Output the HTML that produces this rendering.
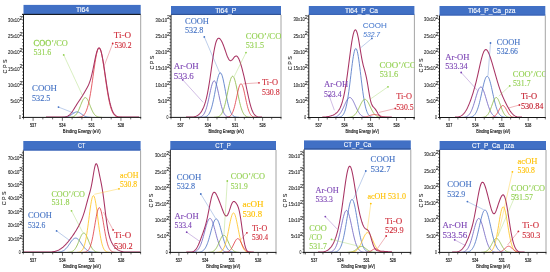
<!DOCTYPE html><html><head><meta charset="utf-8"><style>html,body{margin:0;padding:0;background:#fff;}svg{display:block;}.tt{font-family:"Liberation Sans",Arial,sans-serif;font-size:7px;fill:#fff;stroke:#fff;stroke-width:0.12px;}.an{font-family:"Liberation Serif","Times New Roman",serif;font-size:8.8px;stroke-width:0.12px;}.as{font-family:"Liberation Sans",Arial,sans-serif;font-size:8px;stroke-width:0.1px;}.tk{font-family:"Liberation Sans",Arial,sans-serif;font-size:5px;fill:#2a2a2a;stroke:#2a2a2a;stroke-width:0.22px;}.yl{font-family:"Liberation Sans",Arial,sans-serif;font-size:5.4px;fill:#2a2a2a;stroke:#2a2a2a;stroke-width:0.12px;}.bx{font-family:"Liberation Sans",Arial,sans-serif;font-size:5px;fill:#2a2a2a;stroke:#2a2a2a;stroke-width:0.2px;}</style></head><body>
<svg width="550" height="272" viewBox="0 0 550 272">
<rect width="550" height="272" fill="#fff"/>
<clipPath id="cTi64"><rect x="23.5" y="14.9" width="117.2" height="102.5"/></clipPath>
<clipPath id="LcTi64"><rect x="-6.5" y="9.9" width="147.2" height="112.5"/></clipPath>
<rect x="23.5" y="4.9" width="117.2" height="10" fill="#4170c5"/>
<rect x="22" y="13.85" width="118.7" height="1.05" fill="#111"/>
<text class="tt" x="76.1" y="12.3" textLength="13" lengthAdjust="spacingAndGlyphs">Ti64</text>
<line x1="140.7" y1="14.9" x2="140.7" y2="117.4" stroke="#9a9a9a" stroke-width="0.9"/>
<g clip-path="url(#cTi64)" fill="none" stroke-linejoin="round">
<path d="M62.5,117.36 L63,117.34 L63.5,117.32 L64,117.29 L64.5,117.25 L65,117.21 L65.5,117.14 L66,117.07 L66.5,116.97 L67,116.86 L67.5,116.72 L68,116.55 L68.5,116.36 L69,116.14 L69.5,115.89 L70,115.61 L70.5,115.31 L71,114.98 L71.5,114.64 L72,114.28 L72.5,113.92 L73,113.56 L73.5,113.21 L74,112.89 L74.5,112.6 L75,112.35 L75.5,112.15 L76,112 L76.5,111.92 L77,111.9 L77.5,111.95 L78,112.06 L78.5,112.22 L79,112.44 L79.5,112.71 L80,113.02 L80.5,113.35 L81,113.7 L81.5,114.06 L82,114.43 L82.5,114.78 L83,115.12 L83.5,115.44 L84,115.73 L84.5,116 L85,116.23 L85.5,116.44 L86,116.62 L86.5,116.78 L87,116.91 L87.5,117.01 L88,117.1 L88.5,117.17 L89,117.23 L89.5,117.27 L90,117.3 L90.5,117.33 L91,117.35 L91.5,117.36" stroke="#5277c6" stroke-width="0.85"/>
<path d="M69,117.35 L69.5,117.33 L70,117.3 L70.5,117.26 L71,117.21 L71.5,117.13 L72,117.04 L72.5,116.91 L73,116.76 L73.5,116.55 L74,116.3 L74.5,115.99 L75,115.61 L75.5,115.15 L76,114.6 L76.5,113.97 L77,113.24 L77.5,112.4 L78,111.47 L78.5,110.45 L79,109.34 L79.5,108.15 L80,106.92 L80.5,105.65 L81,104.37 L81.5,103.12 L82,101.93 L82.5,100.82 L83,99.83 L83.5,99 L84,98.34 L84.5,97.88 L85,97.64 L85.5,97.62 L86,97.82 L86.5,98.23 L87,98.85 L87.5,99.65 L88,100.61 L88.5,101.7 L89,102.88 L89.5,104.12 L90,105.39 L90.5,106.66 L91,107.91 L91.5,109.11 L92,110.23 L92.5,111.28 L93,112.23 L93.5,113.08 L94,113.83 L94.5,114.48 L95,115.05 L95.5,115.52 L96,115.92 L96.5,116.24 L97,116.51 L97.5,116.72 L98,116.89 L98.5,117.02 L99,117.12 L99.5,117.19 L100,117.25 L100.5,117.29 L101,117.33 L101.5,117.35 L102,117.36" stroke="#8fbb4a" stroke-width="0.85"/>
<path d="M76.5,117.35 L77,117.34 L77.5,117.31 L78,117.28 L78.5,117.24 L79,117.19 L79.5,117.12 L80,117.03 L80.5,116.92 L81,116.77 L81.5,116.59 L82,116.36 L82.5,116.07 L83,115.72 L83.5,115.29 L84,114.77 L84.5,114.15 L85,113.4 L85.5,112.52 L86,111.49 L86.5,110.29 L87,108.91 L87.5,107.34 L88,105.56 L88.5,103.56 L89,101.34 L89.5,98.9 L90,96.25 L90.5,93.38 L91,90.32 L91.5,87.08 L92,83.71 L92.5,80.22 L93,76.67 L93.5,73.1 L94,69.57 L94.5,66.12 L95,62.81 L95.5,59.7 L96,56.86 L96.5,54.33 L97,52.17 L97.5,50.41 L98,49.1 L98.5,48.26 L99,47.91 L99.5,48.06 L100,48.7 L100.5,49.83 L101,51.41 L101.5,53.42 L102,55.81 L102.5,58.53 L103,61.54 L103.5,64.77 L104,68.17 L104.5,71.68 L105,75.25 L105.5,78.81 L106,82.33 L106.5,85.75 L107,89.04 L107.5,92.18 L108,95.12 L108.5,97.87 L109,100.39 L109.5,102.7 L110,104.79 L110.5,106.65 L111,108.31 L111.5,109.76 L112,111.03 L112.5,112.13 L113,113.07 L113.5,113.86 L114,114.54 L114.5,115.1 L115,115.56 L115.5,115.94 L116,116.25 L116.5,116.5 L117,116.7 L117.5,116.86 L118,116.99 L118.5,117.09 L119,117.16 L119.5,117.22 L120,117.27 L120.5,117.3 L121,117.33 L121.5,117.35 L122,117.36" stroke="#e0414a" stroke-width="0.85"/>
<path d="M46,117 L46.5,117 L47,117 L47.5,117 L48,117 L48.5,117 L49,117 L49.5,117 L50,117 L50.5,117 L51,117 L51.5,117 L52,117 L52.5,117 L53,117 L53.5,117 L54,117 L54.5,117 L55,117 L55.5,117 L56,117 L56.5,117 L57,117 L57.5,117 L58,117 L58.5,117 L59,117 L59.5,117 L60,117 L60.5,117 L61,117 L61.5,117 L62,117 L62.5,117 L63,117 L63.5,117 L64,117 L64.5,117 L65,116.99 L65.5,116.88 L66,116.74 L66.5,116.58 L67,116.38 L67.5,116.15 L68,115.88 L68.5,115.56 L69,115.2 L69.5,114.79 L70,114.33 L70.5,113.81 L71,113.24 L71.5,112.63 L72,111.97 L72.5,111.26 L73,110.52 L73.5,109.74 L74,108.95 L74.5,108.13 L75,107.31 L75.5,106.49 L76,105.67 L76.5,104.87 L77,104.08 L77.5,103.3 L78,102.54 L78.5,101.79 L79,101.05 L79.5,100.31 L80,99.58 L80.5,98.83 L81,98.07 L81.5,97.29 L82,96.5 L82.5,95.68 L83,94.85 L83.5,94 L84,93.14 L84.5,92.28 L85,91.41 L85.5,90.54 L86,89.67 L86.5,88.79 L87,87.89 L87.5,86.96 L88,85.98 L88.5,84.93 L89,83.79 L89.5,82.52 L90,81.12 L90.5,79.57 L91,77.84 L91.5,75.95 L92,73.89 L92.5,71.68 L93,69.35 L93.5,66.91 L94,64.42 L94.5,61.92 L95,59.47 L95.5,57.12 L96,54.92 L96.5,52.94 L97,51.23 L97.5,49.83 L98,48.79 L98.5,48.14 L99,47.9 L99.5,48.09 L100,48.72 L100.5,49.77 L101,51.23 L101.5,53.08 L102,55.29 L102.5,57.81 L103,60.6 L103.5,63.62 L104,66.82 L104.5,70.13 L105,73.52 L105.5,76.94 L106,80.34 L106.5,83.68 L107,86.91 L107.5,90.02 L108,92.98 L108.5,95.76 L109,98.35 L109.5,100.74 L110,102.93 L110.5,104.91 L111,106.69 L111.5,108.28 L112,109.69 L112.5,110.92 L113,111.99 L113.5,112.91 L114,113.7 L114.5,114.37 L115,114.94 L115.5,115.41 L116,115.81 L116.5,116.13 L117,116.39 L117.5,116.61 L118,116.78 L118.5,116.92 L119,117 L119.5,117 L120,117 L120.5,117 L121,117 L121.5,117 L122,117 L122.5,117 L123,117 L123.5,117 L124,117 L124.5,117 L125,117 L125.5,117 L126,117 L126.5,117 L127,117 L127.5,117 L128,117 L128.5,117 L129,117 L129.5,117 L130,117 L130.5,117 L131,117 L131.5,117 L132,117 L132.5,117 L133,117 L133.5,117 L134,117 L134.5,117 L135,117 L135.5,117 L136,117 L136.5,117 L137,117 L137.5,117 L138,117 L138.5,117 L139,117" stroke="#a83363" stroke-width="1.05"/>
</g>
<line x1="63.7" y1="54.9" x2="82.5" y2="95.5" stroke="#92d050" stroke-width="0.5" opacity="0.7"/>
<circle cx="63.7" cy="54.9" r="0.9" fill="#92d050"/>
<line x1="112.7" y1="43.5" x2="104.3" y2="65.5" stroke="#cf2b38" stroke-width="0.5" opacity="0.7"/>
<circle cx="112.7" cy="43.5" r="0.9" fill="#cf2b38"/>
<line x1="58.5" y1="107.1" x2="74.5" y2="113.3" stroke="#4472c4" stroke-width="0.5" opacity="0.7"/>
<circle cx="58.5" cy="107.1" r="0.9" fill="#4472c4"/>
<text clip-path="url(#LcTi64)" class="an" x="33.6" y="46" fill="#92d050" stroke="#92d050" textLength="34.2" lengthAdjust="spacingAndGlyphs"><tspan stroke="#92d050" stroke-width="0.3">COO</tspan><tspan>’</tspan><tspan>/CO</tspan></text>
<text clip-path="url(#LcTi64)" class="an" x="33.6" y="55.2" fill="#92d050" stroke="#92d050" textLength="17.6" lengthAdjust="spacingAndGlyphs"><tspan>531.6</tspan></text>
<text clip-path="url(#LcTi64)" class="an" x="113.7" y="38.1" fill="#cf2b38" stroke="#cf2b38" textLength="17.4" lengthAdjust="spacingAndGlyphs"><tspan>Ti-O</tspan></text>
<text clip-path="url(#LcTi64)" class="an" x="114.4" y="47.7" fill="#cf2b38" stroke="#cf2b38" textLength="17.2" lengthAdjust="spacingAndGlyphs"><tspan>530.2</tspan></text>
<text clip-path="url(#LcTi64)" class="an" x="32" y="91.2" fill="#4472c4" stroke="#4472c4" textLength="25" lengthAdjust="spacingAndGlyphs"><tspan>COOH</tspan></text>
<text clip-path="url(#LcTi64)" class="an" x="32" y="100.8" fill="#4472c4" stroke="#4472c4" textLength="18.4" lengthAdjust="spacingAndGlyphs"><tspan>532.5</tspan></text>
<line x1="23.5" y1="14.9" x2="23.5" y2="117.9" stroke="#151515" stroke-width="1"/>
<line x1="22.2" y1="117.4" x2="141.15" y2="117.4" stroke="#151515" stroke-width="1"/>
<path d="M23.5,117.4h-1.4M23.5,114.15h-1.4M23.5,110.9h-1.4M23.5,107.65h-1.4M23.5,104.4h-1.4M23.5,101.15h-1.4M23.5,97.9h-1.4M23.5,94.65h-1.4M23.5,91.4h-1.4M23.5,88.15h-1.4M23.5,84.9h-1.4M23.5,81.65h-1.4M23.5,78.4h-1.4M23.5,75.15h-1.4M23.5,71.9h-1.4M23.5,68.65h-1.4M23.5,65.4h-1.4M23.5,62.15h-1.4M23.5,58.9h-1.4M23.5,55.65h-1.4M23.5,52.4h-1.4M23.5,49.15h-1.4M23.5,45.9h-1.4M23.5,42.65h-1.4M23.5,39.4h-1.4M23.5,36.15h-1.4M23.5,32.9h-1.4M23.5,29.65h-1.4M23.5,26.4h-1.4M23.5,23.15h-1.4M23.5,19.9h-1.4M23.5,16.65h-1.4" stroke="#222" stroke-width="0.65" fill="none"/>
<text class="yl" x="20.9" y="119.3" text-anchor="end" textLength="1.9" lengthAdjust="spacingAndGlyphs">0</text>
<text class="yl" x="10.38" y="103.05" textLength="9.12" lengthAdjust="spacingAndGlyphs">5x10</text>
<text class="yl" x="19.55" y="100.85" font-size="3.4">2</text>
<text class="yl" x="8.1" y="86.8" textLength="11.4" lengthAdjust="spacingAndGlyphs">10x10</text>
<text class="yl" x="19.55" y="84.6" font-size="3.4">2</text>
<text class="yl" x="8.1" y="70.55" textLength="11.4" lengthAdjust="spacingAndGlyphs">15x10</text>
<text class="yl" x="19.55" y="68.35" font-size="3.4">2</text>
<text class="yl" x="8.1" y="54.3" textLength="11.4" lengthAdjust="spacingAndGlyphs">20x10</text>
<text class="yl" x="19.55" y="52.1" font-size="3.4">2</text>
<text class="yl" x="8.1" y="38.05" textLength="11.4" lengthAdjust="spacingAndGlyphs">25x10</text>
<text class="yl" x="19.55" y="35.85" font-size="3.4">2</text>
<text class="yl" x="8.1" y="21.8" textLength="11.4" lengthAdjust="spacingAndGlyphs">30x10</text>
<text class="yl" x="19.55" y="19.6" font-size="3.4">2</text>
<text class="yl" transform="translate(6.6,66.5) rotate(-90)" text-anchor="middle" font-size="4.2">C P S</text>
<path d="M33.1,117.4v3.4M42.86,117.4v2.0M52.62,117.4v2.0M62.38,117.4v3.4M72.14,117.4v2.0M81.9,117.4v2.0M91.66,117.4v3.4M101.42,117.4v2.0M111.18,117.4v2.0M120.94,117.4v3.4M130.7,117.4v2.0M23.5,117.4v1.9M140.7,117.4v1.9" stroke="#222" stroke-width="0.65" fill="none"/>
<text class="tk" x="33.1" y="126.8" text-anchor="middle" textLength="6.2" lengthAdjust="spacingAndGlyphs">537</text>
<text class="tk" x="62.38" y="126.8" text-anchor="middle" textLength="6.2" lengthAdjust="spacingAndGlyphs">534</text>
<text class="tk" x="91.66" y="126.8" text-anchor="middle" textLength="6.2" lengthAdjust="spacingAndGlyphs">531</text>
<text class="tk" x="120.94" y="126.8" text-anchor="middle" textLength="6.2" lengthAdjust="spacingAndGlyphs">528</text>
<text class="bx" x="81.72" y="132.6" text-anchor="middle" textLength="37.77" lengthAdjust="spacingAndGlyphs">Binding Energy (eV)</text>
<clipPath id="cTi64_P"><rect x="171" y="14.9" width="110" height="102.5"/></clipPath>
<clipPath id="LcTi64_P"><rect x="141" y="9.9" width="140" height="112.5"/></clipPath>
<rect x="171" y="6" width="110" height="8.9" fill="#4170c5"/>
<rect x="171" y="13.85" width="110" height="1.05" fill="#2d4f92"/>
<text class="tt" x="215.25" y="13.1" textLength="20.9" lengthAdjust="spacingAndGlyphs">Ti64_P</text>
<line x1="281" y1="14.9" x2="281" y2="117.4" stroke="#9a9a9a" stroke-width="0.9"/>
<g clip-path="url(#cTi64_P)" fill="none" stroke-linejoin="round">
<path d="M197,117.35 L197.5,117.33 L198,117.3 L198.5,117.26 L199,117.2 L199.5,117.13 L200,117.02 L200.5,116.88 L201,116.69 L201.5,116.45 L202,116.14 L202.5,115.75 L203,115.26 L203.5,114.66 L204,113.93 L204.5,113.05 L205,112.01 L205.5,110.8 L206,109.41 L206.5,107.84 L207,106.08 L207.5,104.15 L208,102.07 L208.5,99.86 L209,97.55 L209.5,95.2 L210,92.85 L210.5,90.55 L211,88.37 L211.5,86.37 L212,84.6 L212.5,83.12 L213,81.97 L213.5,81.2 L214,80.83 L214.5,80.87 L215,81.33 L215.5,82.17 L216,83.39 L216.5,84.93 L217,86.75 L217.5,88.8 L218,91 L218.5,93.32 L219,95.67 L219.5,98.02 L220,100.31 L220.5,102.5 L221,104.55 L221.5,106.44 L222,108.17 L222.5,109.7 L223,111.06 L223.5,112.23 L224,113.24 L224.5,114.08 L225,114.79 L225.5,115.37 L226,115.83 L226.5,116.21 L227,116.5 L227.5,116.73 L228,116.91 L228.5,117.04 L229,117.14 L229.5,117.22 L230,117.27 L230.5,117.31 L231,117.34 L231.5,117.36" stroke="#7266c2" stroke-width="0.85"/>
<path d="M201.5,117.36 L202,117.34 L202.5,117.32 L203,117.29 L203.5,117.24 L204,117.18 L204.5,117.1 L205,116.99 L205.5,116.84 L206,116.65 L206.5,116.41 L207,116.1 L207.5,115.72 L208,115.24 L208.5,114.65 L209,113.93 L209.5,113.07 L210,112.06 L210.5,110.87 L211,109.49 L211.5,107.92 L212,106.15 L212.5,104.19 L213,102.04 L213.5,99.71 L214,97.24 L214.5,94.64 L215,91.97 L215.5,89.27 L216,86.59 L216.5,83.99 L217,81.53 L217.5,79.27 L218,77.28 L218.5,75.6 L219,74.28 L219.5,73.37 L220,72.88 L220.5,72.84 L221,73.23 L221.5,74.07 L222,75.3 L222.5,76.91 L223,78.85 L223.5,81.06 L224,83.48 L224.5,86.06 L225,88.73 L225.5,91.43 L226,94.11 L226.5,96.72 L227,99.23 L227.5,101.59 L228,103.77 L228.5,105.78 L229,107.58 L229.5,109.19 L230,110.61 L230.5,111.83 L231,112.88 L231.5,113.77 L232,114.51 L232.5,115.13 L233,115.63 L233.5,116.03 L234,116.36 L234.5,116.61 L235,116.81 L235.5,116.96 L236,117.08 L236.5,117.17 L237,117.23 L237.5,117.28 L238,117.32 L238.5,117.34 L239,117.36" stroke="#5277c6" stroke-width="0.85"/>
<path d="M214,117.36 L214.5,117.34 L215,117.32 L215.5,117.28 L216,117.23 L216.5,117.17 L217,117.08 L217.5,116.97 L218,116.82 L218.5,116.63 L219,116.38 L219.5,116.07 L220,115.68 L220.5,115.2 L221,114.61 L221.5,113.89 L222,113.05 L222.5,112.04 L223,110.88 L223.5,109.54 L224,108.01 L224.5,106.31 L225,104.42 L225.5,102.37 L226,100.16 L226.5,97.83 L227,95.4 L227.5,92.91 L228,90.42 L228.5,87.96 L229,85.61 L229.5,83.4 L230,81.41 L230.5,79.68 L231,78.26 L231.5,77.19 L232,76.5 L232.5,76.21 L233,76.33 L233.5,76.86 L234,77.78 L234.5,79.07 L235,80.68 L235.5,82.58 L236,84.7 L236.5,87.01 L237,89.43 L237.5,91.91 L238,94.41 L238.5,96.86 L239,99.24 L239.5,101.5 L240,103.62 L240.5,105.57 L241,107.35 L241.5,108.95 L242,110.36 L242.5,111.6 L243,112.66 L243.5,113.57 L244,114.34 L244.5,114.97 L245,115.5 L245.5,115.92 L246,116.26 L246.5,116.54 L247,116.75 L247.5,116.91 L248,117.04 L248.5,117.14 L249,117.21 L249.5,117.26 L250,117.3 L250.5,117.33 L251,117.35" stroke="#8fbb4a" stroke-width="0.85"/>
<path d="M225,117.37 L225.5,117.35 L226,117.32 L226.5,117.29 L227,117.23 L227.5,117.16 L228,117.05 L228.5,116.91 L229,116.71 L229.5,116.46 L230,116.12 L230.5,115.69 L231,115.14 L231.5,114.46 L232,113.63 L232.5,112.62 L233,111.43 L233.5,110.04 L234,108.44 L234.5,106.65 L235,104.67 L235.5,102.53 L236,100.26 L236.5,97.91 L237,95.54 L237.5,93.2 L238,90.98 L238.5,88.94 L239,87.15 L239.5,85.69 L240,84.6 L240.5,83.93 L241,83.7 L241.5,83.93 L242,84.6 L242.5,85.69 L243,87.15 L243.5,88.94 L244,90.98 L244.5,93.2 L245,95.54 L245.5,97.91 L246,100.26 L246.5,102.53 L247,104.67 L247.5,106.65 L248,108.44 L248.5,110.04 L249,111.43 L249.5,112.62 L250,113.63 L250.5,114.46 L251,115.14 L251.5,115.69 L252,116.12 L252.5,116.46 L253,116.71 L253.5,116.91 L254,117.05 L254.5,117.16 L255,117.23 L255.5,117.29 L256,117.32 L256.5,117.35 L257,117.37" stroke="#e0414a" stroke-width="0.85"/>
<path d="M186,117 L186.5,117 L187,117 L187.5,117 L188,117 L188.5,117 L189,117 L189.5,117 L190,117 L190.5,117 L191,117 L191.5,117 L192,117 L192.5,117 L193,116.98 L193.5,116.9 L194,116.8 L194.5,116.68 L195,116.54 L195.5,116.38 L196,116.2 L196.5,115.99 L197,115.74 L197.5,115.46 L198,115.14 L198.5,114.78 L199,114.36 L199.5,113.89 L200,113.37 L200.5,112.77 L201,112.11 L201.5,111.36 L202,110.54 L202.5,109.62 L203,108.59 L203.5,107.47 L204,106.22 L204.5,104.84 L205,103.32 L205.5,101.65 L206,99.82 L206.5,97.82 L207,95.63 L207.5,93.25 L208,90.67 L208.5,87.89 L209,84.92 L209.5,81.77 L210,78.46 L210.5,75.02 L211,71.49 L211.5,67.91 L212,64.34 L212.5,60.82 L213,57.43 L213.5,54.2 L214,51.21 L214.5,48.48 L215,46.06 L215.5,43.96 L216,42.21 L216.5,40.8 L217,39.73 L217.5,38.96 L218,38.49 L218.5,38.28 L219,38.3 L219.5,38.53 L220,38.94 L220.5,39.51 L221,40.22 L221.5,41.06 L222,42.02 L222.5,43.09 L223,44.26 L223.5,45.52 L224,46.86 L224.5,48.26 L225,49.71 L225.5,51.18 L226,52.65 L226.5,54.08 L227,55.45 L227.5,56.71 L228,57.85 L228.5,58.82 L229,59.61 L229.5,60.19 L230,60.56 L230.5,60.71 L231,60.65 L231.5,60.4 L232,59.99 L232.5,59.45 L233,58.83 L233.5,58.17 L234,57.53 L234.5,56.94 L235,56.47 L235.5,56.13 L236,55.98 L236.5,56.02 L237,56.27 L237.5,56.74 L238,57.41 L238.5,58.28 L239,59.33 L239.5,60.55 L240,61.91 L240.5,63.39 L241,64.98 L241.5,66.67 L242,68.45 L242.5,70.31 L243,72.26 L243.5,74.29 L244,76.39 L244.5,78.57 L245,80.81 L245.5,83.12 L246,85.47 L246.5,87.85 L247,90.24 L247.5,92.62 L248,94.96 L248.5,97.24 L249,99.44 L249.5,101.54 L250,103.52 L250.5,105.35 L251,107.04 L251.5,108.58 L252,109.95 L252.5,111.18 L253,112.25 L253.5,113.17 L254,113.97 L254.5,114.64 L255,115.2 L255.5,115.67 L256,116.05 L256.5,116.35 L257,116.6 L257.5,116.79 L258,116.94 L258.5,117 L259,117 L259.5,117 L260,117 L260.5,117 L261,117 L261.5,117 L262,117" stroke="#a83363" stroke-width="1.05"/>
</g>
<line x1="204.3" y1="36.9" x2="220.2" y2="74.1" stroke="#4472c4" stroke-width="0.5" opacity="0.7"/>
<circle cx="204.3" cy="36.9" r="0.9" fill="#4472c4"/>
<line x1="246" y1="52.6" x2="234" y2="76.9" stroke="#92d050" stroke-width="0.5" opacity="0.7"/>
<circle cx="246" cy="52.6" r="0.9" fill="#92d050"/>
<line x1="182.7" y1="79.8" x2="203.1" y2="102.3" stroke="#7c44b4" stroke-width="0.5" opacity="0.7"/>
<circle cx="182.7" cy="79.8" r="0.9" fill="#7c44b4"/>
<line x1="243.3" y1="83.8" x2="259" y2="82.8" stroke="#cf2b38" stroke-width="0.5" opacity="0.7"/>
<circle cx="259" cy="82.8" r="0.9" fill="#cf2b38"/>
<text clip-path="url(#LcTi64_P)" class="an" x="185" y="24" fill="#4472c4" stroke="#4472c4" textLength="24" lengthAdjust="spacingAndGlyphs"><tspan>COOH</tspan></text>
<text clip-path="url(#LcTi64_P)" class="an" x="185" y="33" fill="#4472c4" stroke="#4472c4" textLength="18.3" lengthAdjust="spacingAndGlyphs"><tspan>532.8</tspan></text>
<text clip-path="url(#LcTi64_P)" class="an" x="245.8" y="39.3" fill="#92d050" stroke="#92d050" textLength="35.6" lengthAdjust="spacingAndGlyphs"><tspan>COO</tspan><tspan>’</tspan><tspan>/CO</tspan></text>
<text clip-path="url(#LcTi64_P)" class="an" x="245.8" y="48" fill="#92d050" stroke="#92d050" textLength="18.2" lengthAdjust="spacingAndGlyphs"><tspan>531.5</tspan></text>
<text clip-path="url(#LcTi64_P)" class="an" x="173.8" y="68.7" fill="#7c44b4" stroke="#7c44b4" textLength="25" lengthAdjust="spacingAndGlyphs"><tspan>Ar-OH</tspan></text>
<text clip-path="url(#LcTi64_P)" class="an" x="173.8" y="79.2" fill="#7c44b4" stroke="#7c44b4" textLength="20" lengthAdjust="spacingAndGlyphs"><tspan>533.6</tspan></text>
<text clip-path="url(#LcTi64_P)" class="an" x="262" y="85" fill="#cf2b38" stroke="#cf2b38" textLength="16" lengthAdjust="spacingAndGlyphs"><tspan>Ti-O</tspan></text>
<text clip-path="url(#LcTi64_P)" class="an" x="262" y="95.4" fill="#cf2b38" stroke="#cf2b38" textLength="17.7" lengthAdjust="spacingAndGlyphs"><tspan>530.8</tspan></text>
<line x1="171" y1="14.9" x2="171" y2="117.9" stroke="#151515" stroke-width="1"/>
<line x1="169.7" y1="117.4" x2="281.45" y2="117.4" stroke="#151515" stroke-width="1"/>
<path d="M171,117.4h-1.4M171,114.14h-1.4M171,110.88h-1.4M171,107.62h-1.4M171,104.36h-1.4M171,101.1h-1.4M171,97.84h-1.4M171,94.58h-1.4M171,91.32h-1.4M171,88.06h-1.4M171,84.8h-1.4M171,81.54h-1.4M171,78.28h-1.4M171,75.02h-1.4M171,71.76h-1.4M171,68.5h-1.4M171,65.24h-1.4M171,61.98h-1.4M171,58.72h-1.4M171,55.46h-1.4M171,52.2h-1.4M171,48.94h-1.4M171,45.68h-1.4M171,42.42h-1.4M171,39.16h-1.4M171,35.9h-1.4M171,32.64h-1.4M171,29.38h-1.4M171,26.12h-1.4M171,22.86h-1.4M171,19.6h-1.4M171,16.34h-1.4" stroke="#222" stroke-width="0.65" fill="none"/>
<text class="yl" x="168.4" y="119.3" text-anchor="end" textLength="1.9" lengthAdjust="spacingAndGlyphs">0</text>
<text class="yl" x="157.88" y="103" textLength="9.12" lengthAdjust="spacingAndGlyphs">5x10</text>
<text class="yl" x="167.05" y="100.8" font-size="3.4">2</text>
<text class="yl" x="155.6" y="86.7" textLength="11.4" lengthAdjust="spacingAndGlyphs">10x10</text>
<text class="yl" x="167.05" y="84.5" font-size="3.4">2</text>
<text class="yl" x="155.6" y="70.4" textLength="11.4" lengthAdjust="spacingAndGlyphs">15x10</text>
<text class="yl" x="167.05" y="68.2" font-size="3.4">2</text>
<text class="yl" x="155.6" y="54.1" textLength="11.4" lengthAdjust="spacingAndGlyphs">20x10</text>
<text class="yl" x="167.05" y="51.9" font-size="3.4">2</text>
<text class="yl" x="155.6" y="37.8" textLength="11.4" lengthAdjust="spacingAndGlyphs">25x10</text>
<text class="yl" x="167.05" y="35.6" font-size="3.4">2</text>
<text class="yl" x="155.6" y="21.5" textLength="11.4" lengthAdjust="spacingAndGlyphs">30x10</text>
<text class="yl" x="167.05" y="19.3" font-size="3.4">2</text>
<text class="yl" transform="translate(154.1,62.6) rotate(-90)" text-anchor="middle" font-size="4.2">C P S</text>
<path d="M180.5,117.4v3.4M189.62,117.4v2.0M198.74,117.4v2.0M207.86,117.4v3.4M216.98,117.4v2.0M226.1,117.4v2.0M235.22,117.4v3.4M244.34,117.4v2.0M253.46,117.4v2.0M262.58,117.4v3.4M271.7,117.4v2.0M171,117.4v1.9M281,117.4v1.9" stroke="#222" stroke-width="0.65" fill="none"/>
<text class="tk" x="180.5" y="126.8" text-anchor="middle" textLength="6.2" lengthAdjust="spacingAndGlyphs">537</text>
<text class="tk" x="207.86" y="126.8" text-anchor="middle" textLength="6.2" lengthAdjust="spacingAndGlyphs">534</text>
<text class="tk" x="235.22" y="126.8" text-anchor="middle" textLength="6.2" lengthAdjust="spacingAndGlyphs">531</text>
<text class="tk" x="262.58" y="126.8" text-anchor="middle" textLength="6.2" lengthAdjust="spacingAndGlyphs">528</text>
<text class="bx" x="226.24" y="132.6" text-anchor="middle" textLength="35.29" lengthAdjust="spacingAndGlyphs">Binding Energy (eV)</text>
<clipPath id="cTi64_P_Ca"><rect x="308.8" y="14.9" width="105.6" height="102.6"/></clipPath>
<clipPath id="LcTi64_P_Ca"><rect x="278.8" y="9.9" width="135.6" height="112.6"/></clipPath>
<rect x="308.8" y="6" width="105.6" height="8.9" fill="#4170c5"/>
<rect x="308.8" y="13.85" width="105.6" height="1.05" fill="#3a63b4"/>
<text class="tt" x="345.1" y="13.2" textLength="32.8" lengthAdjust="spacingAndGlyphs">Ti64_P_Ca</text>
<line x1="414.4" y1="14.9" x2="414.4" y2="117.5" stroke="#9a9a9a" stroke-width="0.9"/>
<g clip-path="url(#cTi64_P_Ca)" fill="none" stroke-linejoin="round">
<path d="M330.8,117.46 L331.3,117.44 L331.8,117.42 L332.3,117.4 L332.8,117.36 L333.3,117.31 L333.8,117.25 L334.3,117.17 L334.8,117.08 L335.3,116.96 L335.8,116.81 L336.3,116.62 L336.8,116.4 L337.3,116.13 L337.8,115.81 L338.3,115.43 L338.8,114.99 L339.3,114.48 L339.8,113.9 L340.3,113.24 L340.8,112.51 L341.3,111.71 L341.8,110.83 L342.3,109.88 L342.8,108.87 L343.3,107.81 L343.8,106.71 L344.3,105.59 L344.8,104.47 L345.3,103.37 L345.8,102.3 L346.3,101.29 L346.8,100.36 L347.3,99.53 L347.8,98.83 L348.3,98.26 L348.8,97.84 L349.3,97.59 L349.8,97.5 L350.3,97.59 L350.8,97.84 L351.3,98.26 L351.8,98.83 L352.3,99.53 L352.8,100.36 L353.3,101.29 L353.8,102.3 L354.3,103.37 L354.8,104.47 L355.3,105.59 L355.8,106.71 L356.3,107.81 L356.8,108.87 L357.3,109.88 L357.8,110.83 L358.3,111.71 L358.8,112.51 L359.3,113.24 L359.8,113.9 L360.3,114.48 L360.8,114.99 L361.3,115.43 L361.8,115.81 L362.3,116.13 L362.8,116.4 L363.3,116.62 L363.8,116.81 L364.3,116.96 L364.8,117.08 L365.3,117.17 L365.8,117.25 L366.3,117.31 L366.8,117.36 L367.3,117.4 L367.8,117.42 L368.3,117.44 L368.8,117.46" stroke="#7266c2" stroke-width="0.85"/>
<path d="M336.3,117.47 L336.8,117.45 L337.3,117.43 L337.8,117.39 L338.3,117.35 L338.8,117.29 L339.3,117.2 L339.8,117.09 L340.3,116.93 L340.8,116.73 L341.3,116.47 L341.8,116.13 L342.3,115.7 L342.8,115.15 L343.3,114.47 L343.8,113.63 L344.3,112.6 L344.8,111.36 L345.3,109.89 L345.8,108.16 L346.3,106.15 L346.8,103.84 L347.3,101.23 L347.8,98.32 L348.3,95.1 L348.8,91.6 L349.3,87.86 L349.8,83.91 L350.3,79.82 L350.8,75.65 L351.3,71.48 L351.8,67.4 L352.3,63.49 L352.8,59.87 L353.3,56.61 L353.8,53.8 L354.3,51.54 L354.8,49.87 L355.3,48.84 L355.8,48.5 L356.3,48.84 L356.8,49.87 L357.3,51.54 L357.8,53.8 L358.3,56.61 L358.8,59.87 L359.3,63.49 L359.8,67.4 L360.3,71.48 L360.8,75.65 L361.3,79.82 L361.8,83.91 L362.3,87.86 L362.8,91.6 L363.3,95.1 L363.8,98.32 L364.3,101.23 L364.8,103.84 L365.3,106.15 L365.8,108.16 L366.3,109.89 L366.8,111.36 L367.3,112.6 L367.8,113.63 L368.3,114.47 L368.8,115.15 L369.3,115.7 L369.8,116.13 L370.3,116.47 L370.8,116.73 L371.3,116.93 L371.8,117.09 L372.3,117.2 L372.8,117.29 L373.3,117.35 L373.8,117.39 L374.3,117.43 L374.8,117.45 L375.3,117.47" stroke="#5277c6" stroke-width="0.85"/>
<path d="M346.8,117.46 L347.3,117.44 L347.8,117.42 L348.3,117.39 L348.8,117.35 L349.3,117.3 L349.8,117.23 L350.3,117.15 L350.8,117.04 L351.3,116.9 L351.8,116.74 L352.3,116.53 L352.8,116.29 L353.3,115.99 L353.8,115.64 L354.3,115.22 L354.8,114.74 L355.3,114.19 L355.8,113.56 L356.3,112.86 L356.8,112.09 L357.3,111.25 L357.8,110.33 L358.3,109.37 L358.8,108.35 L359.3,107.31 L359.8,106.25 L360.3,105.19 L360.8,104.16 L361.3,103.18 L361.8,102.26 L362.3,101.44 L362.8,100.73 L363.3,100.14 L363.8,99.7 L364.3,99.42 L364.8,99.3 L365.3,99.35 L365.8,99.57 L366.3,99.95 L366.8,100.48 L367.3,101.14 L367.8,101.92 L368.3,102.8 L368.8,103.76 L369.3,104.78 L369.8,105.83 L370.3,106.89 L370.8,107.94 L371.3,108.97 L371.8,109.95 L372.3,110.89 L372.8,111.76 L373.3,112.56 L373.8,113.29 L374.3,113.95 L374.8,114.53 L375.3,115.04 L375.8,115.48 L376.3,115.85 L376.8,116.17 L377.3,116.44 L377.8,116.66 L378.3,116.84 L378.8,116.99 L379.3,117.11 L379.8,117.2 L380.3,117.27 L380.8,117.33 L381.3,117.37 L381.8,117.41 L382.3,117.43 L382.8,117.45" stroke="#8fbb4a" stroke-width="0.85"/>
<path d="M359.8,117.46 L360.3,117.45 L360.8,117.43 L361.3,117.41 L361.8,117.39 L362.3,117.35 L362.8,117.31 L363.3,117.27 L363.8,117.21 L364.3,117.14 L364.8,117.06 L365.3,116.97 L365.8,116.86 L366.3,116.74 L366.8,116.61 L367.3,116.47 L367.8,116.31 L368.3,116.14 L368.8,115.97 L369.3,115.79 L369.8,115.61 L370.3,115.43 L370.8,115.25 L371.3,115.09 L371.8,114.94 L372.3,114.8 L372.8,114.69 L373.3,114.6 L373.8,114.54 L374.3,114.51 L374.8,114.5 L375.3,114.53 L375.8,114.59 L376.3,114.67 L376.8,114.78 L377.3,114.91 L377.8,115.06 L378.3,115.22 L378.8,115.39 L379.3,115.57 L379.8,115.75 L380.3,115.93 L380.8,116.11 L381.3,116.28 L381.8,116.44 L382.3,116.58 L382.8,116.72 L383.3,116.84 L383.8,116.95 L384.3,117.04 L384.8,117.13 L385.3,117.2 L385.8,117.26 L386.3,117.31 L386.8,117.35 L387.3,117.38 L387.8,117.41 L388.3,117.43 L388.8,117.45 L389.3,117.46" stroke="#e0414a" stroke-width="0.85"/>
<path d="M322.3,117.1 L322.8,117.1 L323.3,117.1 L323.8,117.1 L324.3,117.1 L324.8,117.07 L325.3,117.01 L325.8,116.95 L326.3,116.88 L326.8,116.81 L327.3,116.72 L327.8,116.63 L328.3,116.53 L328.8,116.43 L329.3,116.31 L329.8,116.18 L330.3,116.05 L330.8,115.9 L331.3,115.73 L331.8,115.56 L332.3,115.37 L332.8,115.16 L333.3,114.93 L333.8,114.69 L334.3,114.42 L334.8,114.12 L335.3,113.79 L335.8,113.43 L336.3,113.03 L336.8,112.59 L337.3,112.09 L337.8,111.53 L338.3,110.9 L338.8,110.19 L339.3,109.39 L339.8,108.49 L340.3,107.48 L340.8,106.33 L341.3,105.05 L341.8,103.61 L342.3,102 L342.8,100.21 L343.3,98.23 L343.8,96.05 L344.3,93.67 L344.8,91.07 L345.3,88.26 L345.8,85.25 L346.3,82.05 L346.8,78.66 L347.3,75.11 L347.8,71.43 L348.3,67.64 L348.8,63.79 L349.3,59.92 L349.8,56.07 L350.3,52.29 L350.8,48.64 L351.3,45.17 L351.8,41.94 L352.3,39 L352.8,36.39 L353.3,34.17 L353.8,32.38 L354.3,31.05 L354.8,30.21 L355.3,29.87 L355.8,30.03 L356.3,30.7 L356.8,31.86 L357.3,33.48 L357.8,35.52 L358.3,37.92 L358.8,40.62 L359.3,43.54 L359.8,46.6 L360.3,49.72 L360.8,52.8 L361.3,55.76 L361.8,58.55 L362.3,61.11 L362.8,63.42 L363.3,65.51 L363.8,67.42 L364.3,69.21 L364.8,70.98 L365.3,72.83 L365.8,74.84 L366.3,77.07 L366.8,79.56 L367.3,82.3 L367.8,85.24 L368.3,88.3 L368.8,91.36 L369.3,94.32 L369.8,97.06 L370.3,99.5 L370.8,101.57 L371.3,103.27 L371.8,104.6 L372.3,105.61 L372.8,106.38 L373.3,106.98 L373.8,107.49 L374.3,108 L374.8,108.54 L375.3,109.16 L375.8,109.86 L376.3,110.64 L376.8,111.48 L377.3,112.33 L377.8,113.18 L378.3,113.97 L378.8,114.69 L379.3,115.32 L379.8,115.85 L380.3,116.28 L380.8,116.62 L381.3,116.88 L381.8,117.07 L382.3,117.1 L382.8,117.1 L383.3,117.1 L383.8,117.1 L384.3,117.1 L384.8,117.1 L385.3,117.1 L385.8,117.1 L386.3,117.1 L386.8,117.1 L387.3,117.1 L387.8,117.1 L388.3,117.1 L388.8,117.1 L389.3,117.1 L389.8,117.1 L390.3,117.1 L390.8,117.1 L391.3,117.1 L391.8,117.1" stroke="#a83363" stroke-width="1.05"/>
</g>
<line x1="371.9" y1="38.4" x2="360.6" y2="47.8" stroke="#4472c4" stroke-width="0.5" opacity="0.7"/>
<circle cx="371.9" cy="38.4" r="0.9" fill="#4472c4"/>
<line x1="388" y1="86.8" x2="370.3" y2="99.1" stroke="#92d050" stroke-width="0.5" opacity="0.7"/>
<circle cx="388" cy="86.8" r="0.9" fill="#92d050"/>
<line x1="329.1" y1="95.6" x2="334.4" y2="110.3" stroke="#7c44b4" stroke-width="0.5" opacity="0.7"/>
<circle cx="329.1" cy="95.6" r="0.9" fill="#7c44b4"/>
<line x1="379.1" y1="112.4" x2="395.3" y2="108.5" stroke="#cf2b38" stroke-width="0.5" opacity="0.7"/>
<circle cx="395.3" cy="108.5" r="0.9" fill="#cf2b38"/>
<text clip-path="url(#LcTi64_P_Ca)" class="as" x="362.8" y="27.7" fill="#4f7fd0" stroke="#4f7fd0" textLength="24" lengthAdjust="spacingAndGlyphs"><tspan>COOH</tspan></text>
<text clip-path="url(#LcTi64_P_Ca)" class="as" font-style="italic" font-size="7.8" x="363.2" y="37" fill="#4f7fd0" stroke="#4f7fd0" textLength="16.8" lengthAdjust="spacingAndGlyphs"><tspan>532.7</tspan></text>
<text clip-path="url(#LcTi64_P_Ca)" class="an" x="379.4" y="68.3" fill="#92d050" stroke="#92d050" textLength="36.9" lengthAdjust="spacingAndGlyphs"><tspan>COO</tspan><tspan>’</tspan><tspan>/CO</tspan></text>
<text clip-path="url(#LcTi64_P_Ca)" class="an" x="379.7" y="77.1" fill="#92d050" stroke="#92d050" textLength="18.5" lengthAdjust="spacingAndGlyphs"><tspan>531.6</tspan></text>
<text clip-path="url(#LcTi64_P_Ca)" class="an" x="324.1" y="87.4" fill="#7c44b4" stroke="#7c44b4" textLength="24.1" lengthAdjust="spacingAndGlyphs"><tspan>Ar-OH</tspan></text>
<text clip-path="url(#LcTi64_P_Ca)" class="an" x="324.1" y="96.8" fill="#7c44b4" stroke="#7c44b4" textLength="17.4" lengthAdjust="spacingAndGlyphs"><tspan>533.4</tspan></text>
<text clip-path="url(#LcTi64_P_Ca)" class="an" x="396.2" y="99.2" fill="#cf2b38" stroke="#cf2b38" textLength="15.8" lengthAdjust="spacingAndGlyphs"><tspan>Ti-O</tspan></text>
<text clip-path="url(#LcTi64_P_Ca)" class="an" x="396.2" y="110" fill="#cf2b38" stroke="#cf2b38" textLength="17.3" lengthAdjust="spacingAndGlyphs"><tspan>530.5</tspan></text>
<line x1="308.8" y1="14.9" x2="308.8" y2="118" stroke="#151515" stroke-width="1"/>
<line x1="307.5" y1="117.5" x2="414.85" y2="117.5" stroke="#151515" stroke-width="1"/>
<path d="M308.8,117.5h-1.4M308.8,114.23h-1.4M308.8,110.96h-1.4M308.8,107.69h-1.4M308.8,104.42h-1.4M308.8,101.15h-1.4M308.8,97.88h-1.4M308.8,94.61h-1.4M308.8,91.34h-1.4M308.8,88.07h-1.4M308.8,84.8h-1.4M308.8,81.53h-1.4M308.8,78.26h-1.4M308.8,74.99h-1.4M308.8,71.72h-1.4M308.8,68.45h-1.4M308.8,65.18h-1.4M308.8,61.91h-1.4M308.8,58.64h-1.4M308.8,55.37h-1.4M308.8,52.1h-1.4M308.8,48.83h-1.4M308.8,45.56h-1.4M308.8,42.29h-1.4M308.8,39.02h-1.4M308.8,35.75h-1.4M308.8,32.48h-1.4M308.8,29.21h-1.4M308.8,25.94h-1.4M308.8,22.67h-1.4M308.8,19.4h-1.4M308.8,16.13h-1.4" stroke="#222" stroke-width="0.65" fill="none"/>
<text class="yl" x="306.2" y="119.4" text-anchor="end" textLength="1.9" lengthAdjust="spacingAndGlyphs">0</text>
<text class="yl" x="295.68" y="103.05" textLength="9.12" lengthAdjust="spacingAndGlyphs">5x10</text>
<text class="yl" x="304.85" y="100.85" font-size="3.4">2</text>
<text class="yl" x="293.4" y="86.7" textLength="11.4" lengthAdjust="spacingAndGlyphs">10x10</text>
<text class="yl" x="304.85" y="84.5" font-size="3.4">2</text>
<text class="yl" x="293.4" y="70.35" textLength="11.4" lengthAdjust="spacingAndGlyphs">15x10</text>
<text class="yl" x="304.85" y="68.15" font-size="3.4">2</text>
<text class="yl" x="293.4" y="54" textLength="11.4" lengthAdjust="spacingAndGlyphs">20x10</text>
<text class="yl" x="304.85" y="51.8" font-size="3.4">2</text>
<text class="yl" x="293.4" y="37.65" textLength="11.4" lengthAdjust="spacingAndGlyphs">25x10</text>
<text class="yl" x="304.85" y="35.45" font-size="3.4">2</text>
<text class="yl" x="293.4" y="21.3" textLength="11.4" lengthAdjust="spacingAndGlyphs">30x10</text>
<text class="yl" x="304.85" y="19.1" font-size="3.4">2</text>
<text class="yl" transform="translate(291.9,63.2) rotate(-90)" text-anchor="middle" font-size="4.2">C P S</text>
<path d="M309.94,117.5v2.0M318.6,117.5v3.4M327.26,117.5v2.0M335.92,117.5v2.0M344.58,117.5v3.4M353.24,117.5v2.0M361.9,117.5v2.0M370.56,117.5v3.4M379.22,117.5v2.0M387.88,117.5v2.0M396.54,117.5v3.4M405.2,117.5v2.0M413.86,117.5v2.0M308.8,117.5v1.9M414.4,117.5v1.9" stroke="#222" stroke-width="0.65" fill="none"/>
<text class="tk" x="318.6" y="126.9" text-anchor="middle" textLength="6.2" lengthAdjust="spacingAndGlyphs">537</text>
<text class="tk" x="344.58" y="126.9" text-anchor="middle" textLength="6.2" lengthAdjust="spacingAndGlyphs">534</text>
<text class="tk" x="370.56" y="126.9" text-anchor="middle" textLength="6.2" lengthAdjust="spacingAndGlyphs">531</text>
<text class="tk" x="396.54" y="126.9" text-anchor="middle" textLength="6.2" lengthAdjust="spacingAndGlyphs">528</text>
<text class="bx" x="362.27" y="132.7" text-anchor="middle" textLength="33.51" lengthAdjust="spacingAndGlyphs">Binding Energy (eV)</text>
<clipPath id="cTi64_P_Ca_pza"><rect x="439.5" y="15.5" width="105.8" height="102"/></clipPath>
<clipPath id="LcTi64_P_Ca_pza"><rect x="409.5" y="10.5" width="135.8" height="112"/></clipPath>
<rect x="439.5" y="6" width="105.8" height="9.5" fill="#4170c5"/>
<rect x="439.5" y="14.45" width="105.8" height="1.05" fill="#3a63b4"/>
<text class="tt" x="467.95" y="13.4" textLength="47.5" lengthAdjust="spacingAndGlyphs">Ti64_P_Ca_pza</text>
<line x1="545.3" y1="15.5" x2="545.3" y2="117.5" stroke="#9a9a9a" stroke-width="0.9"/>
<g clip-path="url(#cTi64_P_Ca_pza)" fill="none" stroke-linejoin="round">
<path d="M461,117.46 L461.5,117.45 L462,117.43 L462.5,117.4 L463,117.37 L463.5,117.32 L464,117.26 L464.5,117.18 L465,117.08 L465.5,116.95 L466,116.79 L466.5,116.58 L467,116.34 L467.5,116.03 L468,115.66 L468.5,115.22 L469,114.7 L469.5,114.08 L470,113.37 L470.5,112.55 L471,111.62 L471.5,110.58 L472,109.42 L472.5,108.14 L473,106.75 L473.5,105.27 L474,103.7 L474.5,102.06 L475,100.37 L475.5,98.66 L476,96.95 L476.5,95.29 L477,93.69 L477.5,92.2 L478,90.84 L478.5,89.64 L479,88.65 L479.5,87.87 L480,87.33 L480.5,87.05 L481,87.02 L481.5,87.26 L482,87.74 L482.5,88.47 L483,89.43 L483.5,90.58 L484,91.91 L484.5,93.38 L485,94.96 L485.5,96.62 L486,98.32 L486.5,100.03 L487,101.72 L487.5,103.37 L488,104.96 L488.5,106.46 L489,107.87 L489.5,109.17 L490,110.35 L490.5,111.42 L491,112.38 L491.5,113.22 L492,113.95 L492.5,114.58 L493,115.12 L493.5,115.58 L494,115.96 L494.5,116.28 L495,116.54 L495.5,116.75 L496,116.92 L496.5,117.05 L497,117.16 L497.5,117.24 L498,117.31 L498.5,117.36 L499,117.4 L499.5,117.42 L500,117.45 L500.5,117.46" stroke="#7266c2" stroke-width="0.85"/>
<path d="M467,117.46 L467.5,117.45 L468,117.43 L468.5,117.4 L469,117.36 L469.5,117.31 L470,117.24 L470.5,117.15 L471,117.04 L471.5,116.9 L472,116.71 L472.5,116.48 L473,116.2 L473.5,115.85 L474,115.42 L474.5,114.9 L475,114.28 L475.5,113.55 L476,112.69 L476.5,111.7 L477,110.56 L477.5,109.27 L478,107.82 L478.5,106.22 L479,104.46 L479.5,102.56 L480,100.52 L480.5,98.37 L481,96.14 L481.5,93.84 L482,91.52 L482.5,89.22 L483,86.98 L483.5,84.84 L484,82.85 L484.5,81.05 L485,79.49 L485.5,78.2 L486,77.21 L486.5,76.55 L487,76.23 L487.5,76.26 L488,76.65 L488.5,77.38 L489,78.43 L489.5,79.78 L490,81.39 L490.5,83.23 L491,85.26 L491.5,87.42 L492,89.68 L492.5,91.99 L493,94.3 L493.5,96.59 L494,98.81 L494.5,100.94 L495,102.95 L495.5,104.83 L496,106.55 L496.5,108.13 L497,109.54 L497.5,110.8 L498,111.91 L498.5,112.88 L499,113.71 L499.5,114.41 L500,115.01 L500.5,115.51 L501,115.92 L501.5,116.26 L502,116.53 L502.5,116.75 L503,116.93 L503.5,117.07 L504,117.17 L504.5,117.26 L505,117.32 L505.5,117.37 L506,117.4 L506.5,117.43 L507,117.45" stroke="#5277c6" stroke-width="0.85"/>
<path d="M481,117.46 L481.5,117.44 L482,117.41 L482.5,117.38 L483,117.32 L483.5,117.24 L484,117.14 L484.5,117.01 L485,116.83 L485.5,116.6 L486,116.3 L486.5,115.93 L487,115.47 L487.5,114.92 L488,114.25 L488.5,113.48 L489,112.58 L489.5,111.56 L490,110.43 L490.5,109.19 L491,107.87 L491.5,106.49 L492,105.09 L492.5,103.69 L493,102.34 L493.5,101.08 L494,99.95 L494.5,99 L495,98.26 L495.5,97.76 L496,97.52 L496.5,97.55 L497,97.84 L497.5,98.39 L498,99.18 L498.5,100.17 L499,101.32 L499.5,102.6 L500,103.97 L500.5,105.37 L501,106.77 L501.5,108.14 L502,109.45 L502.5,110.66 L503,111.77 L503.5,112.77 L504,113.64 L504.5,114.4 L505,115.04 L505.5,115.57 L506,116.01 L506.5,116.36 L507,116.65 L507.5,116.87 L508,117.04 L508.5,117.17 L509,117.26 L509.5,117.33 L510,117.38 L510.5,117.42 L511,117.45 L511.5,117.46" stroke="#8fbb4a" stroke-width="0.85"/>
<path d="M489.5,117.46 L490,117.45 L490.5,117.42 L491,117.38 L491.5,117.32 L492,117.24 L492.5,117.13 L493,116.99 L493.5,116.8 L494,116.56 L494.5,116.25 L495,115.88 L495.5,115.42 L496,114.88 L496.5,114.25 L497,113.53 L497.5,112.73 L498,111.87 L498.5,110.97 L499,110.04 L499.5,109.11 L500,108.23 L500.5,107.42 L501,106.71 L501.5,106.15 L502,105.75 L502.5,105.54 L503,105.52 L503.5,105.69 L504,106.05 L504.5,106.59 L505,107.27 L505.5,108.06 L506,108.93 L506.5,109.85 L507,110.78 L507.5,111.69 L508,112.57 L508.5,113.38 L509,114.11 L509.5,114.76 L510,115.32 L510.5,115.79 L511,116.18 L511.5,116.5 L512,116.76 L512.5,116.96 L513,117.11 L513.5,117.22 L514,117.31 L514.5,117.37 L515,117.41 L515.5,117.44 L516,117.46" stroke="#e0414a" stroke-width="0.85"/>
<path d="M455,117.1 L455.5,117.1 L456,117.1 L456.5,117.1 L457,117.1 L457.5,117.09 L458,117 L458.5,116.88 L459,116.74 L459.5,116.58 L460,116.39 L460.5,116.16 L461,115.9 L461.5,115.6 L462,115.25 L462.5,114.86 L463,114.42 L463.5,113.92 L464,113.36 L464.5,112.75 L465,112.07 L465.5,111.32 L466,110.52 L466.5,109.64 L467,108.71 L467.5,107.71 L468,106.64 L468.5,105.52 L469,104.34 L469.5,103.11 L470,101.82 L470.5,100.49 L471,99.1 L471.5,97.66 L472,96.18 L472.5,94.64 L473,93.06 L473.5,91.42 L474,89.72 L474.5,87.96 L475,86.14 L475.5,84.25 L476,82.29 L476.5,80.27 L477,78.18 L477.5,76.03 L478,73.84 L478.5,71.61 L479,69.36 L479.5,67.11 L480,64.88 L480.5,62.71 L481,60.61 L481.5,58.63 L482,56.78 L482.5,55.1 L483,53.61 L483.5,52.33 L484,51.29 L484.5,50.49 L485,49.94 L485.5,49.64 L486,49.6 L486.5,49.79 L487,50.22 L487.5,50.85 L488,51.68 L488.5,52.67 L489,53.82 L489.5,55.09 L490,56.46 L490.5,57.93 L491,59.47 L491.5,61.07 L492,62.71 L492.5,64.4 L493,66.11 L493.5,67.85 L494,69.6 L494.5,71.37 L495,73.13 L495.5,74.9 L496,76.66 L496.5,78.4 L497,80.12 L497.5,81.8 L498,83.45 L498.5,85.05 L499,86.61 L499.5,88.11 L500,89.55 L500.5,90.94 L501,92.28 L501.5,93.56 L502,94.8 L502.5,95.99 L503,97.14 L503.5,98.26 L504,99.35 L504.5,100.41 L505,101.45 L505.5,102.48 L506,103.48 L506.5,104.47 L507,105.44 L507.5,106.39 L508,107.31 L508.5,108.2 L509,109.06 L509.5,109.89 L510,110.68 L510.5,111.42 L511,112.11 L511.5,112.76 L512,113.36 L512.5,113.9 L513,114.4 L513.5,114.84 L514,115.24 L514.5,115.59 L515,115.9 L515.5,116.17 L516,116.4 L516.5,116.6 L517,116.76 L517.5,116.9 L518,117.02 L518.5,117.1 L519,117.1 L519.5,117.1 L520,117.1 L520.5,117.1 L521,117.1 L521.5,117.1 L522,117.1" stroke="#a83363" stroke-width="1.05"/>
</g>
<line x1="490.5" y1="43" x2="488" y2="75.5" stroke="#4472c4" stroke-width="0.5" opacity="0.7"/>
<circle cx="490.5" cy="43" r="0.9" fill="#4472c4"/>
<line x1="461.2" y1="72.5" x2="477.5" y2="90.5" stroke="#7c44b4" stroke-width="0.5" opacity="0.7"/>
<circle cx="461.2" cy="72.5" r="0.9" fill="#7c44b4"/>
<line x1="509.7" y1="85.9" x2="498.8" y2="96.2" stroke="#92d050" stroke-width="0.5" opacity="0.7"/>
<circle cx="509.7" cy="85.9" r="0.9" fill="#92d050"/>
<line x1="519.4" y1="105" x2="508.5" y2="108" stroke="#cf2b38" stroke-width="0.5" opacity="0.7"/>
<circle cx="519.4" cy="105" r="0.9" fill="#cf2b38"/>
<text clip-path="url(#LcTi64_P_Ca_pza)" class="an" x="496.8" y="44.7" fill="#4472c4" stroke="#4472c4" textLength="23.6" lengthAdjust="spacingAndGlyphs"><tspan>COOH</tspan></text>
<text clip-path="url(#LcTi64_P_Ca_pza)" class="an" x="496.8" y="53.9" fill="#4472c4" stroke="#4472c4" textLength="21.1" lengthAdjust="spacingAndGlyphs"><tspan>532.66</tspan></text>
<text clip-path="url(#LcTi64_P_Ca_pza)" class="an" x="445.3" y="60.1" fill="#7c44b4" stroke="#7c44b4" textLength="24.2" lengthAdjust="spacingAndGlyphs"><tspan>Ar-OH</tspan></text>
<text clip-path="url(#LcTi64_P_Ca_pza)" class="an" x="445.3" y="69.3" fill="#7c44b4" stroke="#7c44b4" textLength="22.4" lengthAdjust="spacingAndGlyphs"><tspan>533.34</tspan></text>
<text clip-path="url(#LcTi64_P_Ca_pza)" class="an" x="512.8" y="76.5" fill="#92d050" stroke="#92d050" textLength="34.7" lengthAdjust="spacingAndGlyphs"><tspan>COO</tspan><tspan>’</tspan><tspan>/CO</tspan></text>
<text clip-path="url(#LcTi64_P_Ca_pza)" class="an" x="512.9" y="85.9" fill="#92d050" stroke="#92d050" textLength="17.7" lengthAdjust="spacingAndGlyphs"><tspan>531.7</tspan></text>
<text clip-path="url(#LcTi64_P_Ca_pza)" class="an" x="520.9" y="99.2" fill="#c21a2a" stroke="#c21a2a" textLength="16.2" lengthAdjust="spacingAndGlyphs"><tspan>Ti-O</tspan></text>
<text clip-path="url(#LcTi64_P_Ca_pza)" class="an" x="520.9" y="108.6" fill="#c21a2a" stroke="#c21a2a" textLength="22.6" lengthAdjust="spacingAndGlyphs"><tspan>530.84</tspan></text>
<line x1="439.5" y1="15.5" x2="439.5" y2="118" stroke="#151515" stroke-width="1"/>
<line x1="438.2" y1="117.5" x2="545.75" y2="117.5" stroke="#151515" stroke-width="1"/>
<path d="M439.5,117.5h-1.4M439.5,114.23h-1.4M439.5,110.97h-1.4M439.5,107.7h-1.4M439.5,104.43h-1.4M439.5,101.17h-1.4M439.5,97.9h-1.4M439.5,94.63h-1.4M439.5,91.37h-1.4M439.5,88.1h-1.4M439.5,84.83h-1.4M439.5,81.57h-1.4M439.5,78.3h-1.4M439.5,75.03h-1.4M439.5,71.77h-1.4M439.5,68.5h-1.4M439.5,65.23h-1.4M439.5,61.97h-1.4M439.5,58.7h-1.4M439.5,55.43h-1.4M439.5,52.17h-1.4M439.5,48.9h-1.4M439.5,45.63h-1.4M439.5,42.37h-1.4M439.5,39.1h-1.4M439.5,35.83h-1.4M439.5,32.57h-1.4M439.5,29.3h-1.4M439.5,26.03h-1.4M439.5,22.77h-1.4M439.5,19.5h-1.4" stroke="#222" stroke-width="0.65" fill="none"/>
<text class="yl" x="436.9" y="119.4" text-anchor="end" textLength="1.9" lengthAdjust="spacingAndGlyphs">0</text>
<text class="yl" x="426.38" y="103.07" textLength="9.12" lengthAdjust="spacingAndGlyphs">5x10</text>
<text class="yl" x="435.55" y="100.87" font-size="3.4">2</text>
<text class="yl" x="424.1" y="86.73" textLength="11.4" lengthAdjust="spacingAndGlyphs">10x10</text>
<text class="yl" x="435.55" y="84.53" font-size="3.4">2</text>
<text class="yl" x="424.1" y="70.4" textLength="11.4" lengthAdjust="spacingAndGlyphs">15x10</text>
<text class="yl" x="435.55" y="68.2" font-size="3.4">2</text>
<text class="yl" x="424.1" y="54.07" textLength="11.4" lengthAdjust="spacingAndGlyphs">20x10</text>
<text class="yl" x="435.55" y="51.87" font-size="3.4">2</text>
<text class="yl" x="424.1" y="37.73" textLength="11.4" lengthAdjust="spacingAndGlyphs">25x10</text>
<text class="yl" x="435.55" y="35.53" font-size="3.4">2</text>
<text class="yl" x="424.1" y="21.4" textLength="11.4" lengthAdjust="spacingAndGlyphs">30x10</text>
<text class="yl" x="435.55" y="19.2" font-size="3.4">2</text>
<text class="yl" transform="translate(422.6,65.5) rotate(-90)" text-anchor="middle" font-size="4.2">C P S</text>
<path d="M440.31,117.5v2.0M449.1,117.5v3.4M457.89,117.5v2.0M466.68,117.5v2.0M475.47,117.5v3.4M484.26,117.5v2.0M493.05,117.5v2.0M501.84,117.5v3.4M510.63,117.5v2.0M519.42,117.5v2.0M528.21,117.5v3.4M537,117.5v2.0M439.5,117.5v1.9M545.3,117.5v1.9" stroke="#222" stroke-width="0.65" fill="none"/>
<text class="tk" x="449.1" y="126.9" text-anchor="middle" textLength="6.2" lengthAdjust="spacingAndGlyphs">537</text>
<text class="tk" x="475.47" y="126.9" text-anchor="middle" textLength="6.2" lengthAdjust="spacingAndGlyphs">534</text>
<text class="tk" x="501.84" y="126.9" text-anchor="middle" textLength="6.2" lengthAdjust="spacingAndGlyphs">531</text>
<text class="tk" x="528.21" y="126.9" text-anchor="middle" textLength="6.2" lengthAdjust="spacingAndGlyphs">528</text>
<text class="bx" x="493.36" y="132.7" text-anchor="middle" textLength="34.02" lengthAdjust="spacingAndGlyphs">Binding Energy (eV)</text>
<clipPath id="cCT"><rect x="23.3" y="150.5" width="117.3" height="101.9"/></clipPath>
<clipPath id="LcCT"><rect x="-6.7" y="145.5" width="147.3" height="111.9"/></clipPath>
<rect x="23.3" y="141" width="117.3" height="9.5" fill="#4170c5"/>
<rect x="23.3" y="149.45" width="117.3" height="1.05" fill="#3a63b4"/>
<text class="tt" x="78" y="148.4" textLength="7.4" lengthAdjust="spacingAndGlyphs">CT</text>
<line x1="140.6" y1="150.5" x2="140.6" y2="252.4" stroke="#9a9a9a" stroke-width="0.9"/>
<g clip-path="url(#cCT)" fill="none" stroke-linejoin="round">
<path d="M55.3,252.36 L55.8,252.35 L56.3,252.33 L56.8,252.31 L57.3,252.28 L57.8,252.25 L58.3,252.21 L58.8,252.15 L59.3,252.09 L59.8,252 L60.3,251.9 L60.8,251.78 L61.3,251.64 L61.8,251.47 L62.3,251.27 L62.8,251.04 L63.3,250.77 L63.8,250.46 L64.3,250.12 L64.8,249.72 L65.3,249.28 L65.8,248.8 L66.3,248.27 L66.8,247.7 L67.3,247.08 L67.8,246.43 L68.3,245.75 L68.8,245.04 L69.3,244.31 L69.8,243.58 L70.3,242.85 L70.8,242.13 L71.3,241.44 L71.8,240.78 L72.3,240.17 L72.8,239.62 L73.3,239.15 L73.8,238.75 L74.3,238.44 L74.8,238.23 L75.3,238.12 L75.8,238.11 L76.3,238.2 L76.8,238.39 L77.3,238.68 L77.8,239.06 L78.3,239.52 L78.8,240.06 L79.3,240.65 L79.8,241.3 L80.3,241.99 L80.8,242.7 L81.3,243.43 L81.8,244.17 L82.3,244.9 L82.8,245.61 L83.3,246.3 L83.8,246.96 L84.3,247.58 L84.8,248.16 L85.3,248.7 L85.8,249.19 L86.3,249.64 L86.8,250.04 L87.3,250.4 L87.8,250.71 L88.3,250.99 L88.8,251.23 L89.3,251.44 L89.8,251.61 L90.3,251.76 L90.8,251.88 L91.3,251.99 L91.8,252.07 L92.3,252.14 L92.8,252.2 L93.3,252.24 L93.8,252.28 L94.3,252.31 L94.8,252.33 L95.3,252.35 L95.8,252.36" stroke="#5277c6" stroke-width="0.85"/>
<path d="M67.3,252.36 L67.8,252.34 L68.3,252.32 L68.8,252.28 L69.3,252.23 L69.8,252.17 L70.3,252.09 L70.8,251.98 L71.3,251.84 L71.8,251.65 L72.3,251.43 L72.8,251.15 L73.3,250.8 L73.8,250.38 L74.3,249.88 L74.8,249.3 L75.3,248.62 L75.8,247.84 L76.3,246.97 L76.8,246 L77.3,244.94 L77.8,243.81 L78.3,242.62 L78.8,241.38 L79.3,240.13 L79.8,238.89 L80.3,237.7 L80.8,236.58 L81.3,235.56 L81.8,234.68 L82.3,233.96 L82.8,233.43 L83.3,233.11 L83.8,233 L84.3,233.11 L84.8,233.43 L85.3,233.96 L85.8,234.68 L86.3,235.56 L86.8,236.58 L87.3,237.7 L87.8,238.89 L88.3,240.13 L88.8,241.38 L89.3,242.62 L89.8,243.81 L90.3,244.94 L90.8,246 L91.3,246.97 L91.8,247.84 L92.3,248.62 L92.8,249.3 L93.3,249.88 L93.8,250.38 L94.3,250.8 L94.8,251.15 L95.3,251.43 L95.8,251.65 L96.3,251.84 L96.8,251.98 L97.3,252.09 L97.8,252.17 L98.3,252.23 L98.8,252.28 L99.3,252.32 L99.8,252.34 L100.3,252.36" stroke="#8fbb4a" stroke-width="0.85"/>
<path d="M76.8,252.35 L77.3,252.33 L77.8,252.29 L78.3,252.24 L78.8,252.17 L79.3,252.07 L79.8,251.92 L80.3,251.72 L80.8,251.46 L81.3,251.11 L81.8,250.64 L82.3,250.04 L82.8,249.28 L83.3,248.32 L83.8,247.14 L84.3,245.71 L84.8,243.99 L85.3,241.97 L85.8,239.62 L86.3,236.95 L86.8,233.96 L87.3,230.67 L87.8,227.13 L88.3,223.39 L88.8,219.51 L89.3,215.6 L89.8,211.76 L90.3,208.08 L90.8,204.7 L91.3,201.71 L91.8,199.23 L92.3,197.35 L92.8,196.13 L93.3,195.61 L93.8,195.83 L94.3,196.78 L94.8,198.4 L95.3,200.66 L95.8,203.45 L96.3,206.69 L96.8,210.26 L97.3,214.05 L97.8,217.95 L98.3,221.85 L98.8,225.65 L99.3,229.28 L99.8,232.68 L100.3,235.79 L100.8,238.59 L101.3,241.07 L101.8,243.22 L102.3,245.06 L102.8,246.6 L103.3,247.88 L103.8,248.92 L104.3,249.76 L104.8,250.42 L105.3,250.93 L105.8,251.33 L106.3,251.63 L106.8,251.85 L107.3,252.01 L107.8,252.13 L108.3,252.22 L108.8,252.28 L109.3,252.32 L109.8,252.35 L110.3,252.36" stroke="#ffc526" stroke-width="0.85"/>
<path d="M82.3,252.36 L82.8,252.35 L83.3,252.32 L83.8,252.28 L84.3,252.23 L84.8,252.15 L85.3,252.05 L85.8,251.9 L86.3,251.71 L86.8,251.45 L87.3,251.12 L87.8,250.69 L88.3,250.14 L88.8,249.46 L89.3,248.61 L89.8,247.57 L90.3,246.34 L90.8,244.87 L91.3,243.17 L91.8,241.23 L92.3,239.04 L92.8,236.62 L93.3,233.98 L93.8,231.17 L94.3,228.23 L94.8,225.23 L95.3,222.22 L95.8,219.29 L96.3,216.53 L96.8,214.01 L97.3,211.81 L97.8,210.02 L98.3,208.69 L98.8,207.88 L99.3,207.6 L99.8,207.88 L100.3,208.69 L100.8,210.02 L101.3,211.81 L101.8,214.01 L102.3,216.53 L102.8,219.29 L103.3,222.22 L103.8,225.23 L104.3,228.23 L104.8,231.17 L105.3,233.98 L105.8,236.62 L106.3,239.04 L106.8,241.23 L107.3,243.17 L107.8,244.87 L108.3,246.34 L108.8,247.57 L109.3,248.61 L109.8,249.46 L110.3,250.14 L110.8,250.69 L111.3,251.12 L111.8,251.45 L112.3,251.71 L112.8,251.9 L113.3,252.05 L113.8,252.15 L114.3,252.23 L114.8,252.28 L115.3,252.32 L115.8,252.35 L116.3,252.36" stroke="#e0414a" stroke-width="0.85"/>
<path d="M23.8,252 L24.3,252 L24.8,252 L25.3,252 L25.8,252 L26.3,252 L26.8,252 L27.3,252 L27.8,252 L28.3,252 L28.8,252 L29.3,252 L29.8,252 L30.3,252 L30.8,252 L31.3,252 L31.8,252 L32.3,252 L32.8,252 L33.3,252 L33.8,252 L34.3,252 L34.8,252 L35.3,252 L35.8,252 L36.3,252 L36.8,252 L37.3,252 L37.8,252 L38.3,252 L38.8,252 L39.3,252 L39.8,252 L40.3,252 L40.8,252 L41.3,252 L41.8,252 L42.3,252 L42.8,252 L43.3,252 L43.8,252 L44.3,252 L44.8,252 L45.3,252 L45.8,252 L46.3,252 L46.8,252 L47.3,252 L47.8,252 L48.3,252 L48.8,252 L49.3,252 L49.8,252 L50.3,252 L50.8,252 L51.3,252 L51.8,251.96 L52.3,251.89 L52.8,251.81 L53.3,251.73 L53.8,251.63 L54.3,251.52 L54.8,251.41 L55.3,251.27 L55.8,251.13 L56.3,250.97 L56.8,250.79 L57.3,250.6 L57.8,250.39 L58.3,250.16 L58.8,249.92 L59.3,249.66 L59.8,249.37 L60.3,249.07 L60.8,248.74 L61.3,248.4 L61.8,248.03 L62.3,247.64 L62.8,247.24 L63.3,246.81 L63.8,246.36 L64.3,245.89 L64.8,245.4 L65.3,244.9 L65.8,244.37 L66.3,243.83 L66.8,243.28 L67.3,242.7 L67.8,242.12 L68.3,241.51 L68.8,240.9 L69.3,240.27 L69.8,239.64 L70.3,238.98 L70.8,238.32 L71.3,237.65 L71.8,236.96 L72.3,236.27 L72.8,235.56 L73.3,234.84 L73.8,234.1 L74.3,233.35 L74.8,232.58 L75.3,231.79 L75.8,230.99 L76.3,230.17 L76.8,229.32 L77.3,228.45 L77.8,227.56 L78.3,226.64 L78.8,225.69 L79.3,224.71 L79.8,223.69 L80.3,222.64 L80.8,221.54 L81.3,220.4 L81.8,219.2 L82.3,217.93 L82.8,216.59 L83.3,215.16 L83.8,213.65 L84.3,212.05 L84.8,210.36 L85.3,208.6 L85.8,206.78 L86.3,204.93 L86.8,203.07 L87.3,201.24 L87.8,199.44 L88.3,197.69 L88.8,195.97 L89.3,194.26 L89.8,192.51 L90.3,190.64 L90.8,188.61 L91.3,186.35 L91.8,183.83 L92.3,181.06 L92.8,178.09 L93.3,175.03 L93.8,172.03 L94.3,169.25 L94.8,166.88 L95.3,165.09 L95.8,164 L96.3,163.67 L96.8,164.11 L97.3,165.23 L97.8,166.91 L98.3,169.01 L98.8,171.35 L99.3,173.8 L99.8,176.28 L100.3,178.74 L100.8,181.2 L101.3,183.72 L101.8,186.38 L102.3,189.26 L102.8,192.41 L103.3,195.87 L103.8,199.61 L104.3,203.57 L104.8,207.67 L105.3,211.78 L105.8,215.8 L106.3,219.64 L106.8,223.2 L107.3,226.44 L107.8,229.34 L108.3,231.89 L108.8,234.12 L109.3,236.06 L109.8,237.74 L110.3,239.21 L110.8,240.5 L111.3,241.65 L111.8,242.68 L112.3,243.6 L112.8,244.45 L113.3,245.22 L113.8,245.92 L114.3,246.57 L114.8,247.17 L115.3,247.71 L115.8,248.21 L116.3,248.66 L116.8,249.08 L117.3,249.45 L117.8,249.79 L118.3,250.1 L118.8,250.37 L119.3,250.62 L119.8,250.84 L120.3,251.04 L120.8,251.21 L121.3,251.37 L121.8,251.51 L122.3,251.63 L122.8,251.73 L123.3,251.83 L123.8,251.91 L124.3,251.98 L124.8,252 L125.3,252 L125.8,252 L126.3,252 L126.8,252 L127.3,252 L127.8,252 L128.3,252 L128.8,252 L129.3,252 L129.8,252 L130.3,252 L130.8,252 L131.3,252 L131.8,252 L132.3,252 L132.8,252 L133.3,252 L133.8,252 L134.3,252 L134.8,252 L135.3,252 L135.8,252 L136.3,252 L136.8,252 L137.3,252 L137.8,252 L138.3,252 L138.8,252 L139.3,252 L139.8,252 L140.3,252" stroke="#a83363" stroke-width="1.05"/>
</g>
<line x1="94.3" y1="194.3" x2="119" y2="188.8" stroke="#ffc000" stroke-width="0.5" opacity="0.7"/>
<circle cx="119" cy="188.8" r="0.9" fill="#ffc000"/>
<line x1="71.5" y1="210.8" x2="82.8" y2="232.5" stroke="#92d050" stroke-width="0.5" opacity="0.7"/>
<circle cx="71.5" cy="210.8" r="0.9" fill="#92d050"/>
<line x1="56.6" y1="230.9" x2="70.4" y2="241" stroke="#4472c4" stroke-width="0.5" opacity="0.7"/>
<circle cx="56.6" cy="230.9" r="0.9" fill="#4472c4"/>
<line x1="103.4" y1="212" x2="113.1" y2="229.9" stroke="#cf2b38" stroke-width="0.5" opacity="0.7"/>
<circle cx="113.1" cy="229.9" r="0.9" fill="#cf2b38"/>
<text clip-path="url(#LcCT)" class="an" x="120" y="177.5" fill="#ffc000" stroke="#ffc000" textLength="18.4" lengthAdjust="spacingAndGlyphs"><tspan>acOH</tspan></text>
<text clip-path="url(#LcCT)" class="an" x="120" y="186.8" fill="#ffc000" stroke="#ffc000" textLength="17.1" lengthAdjust="spacingAndGlyphs"><tspan>530.8</tspan></text>
<text clip-path="url(#LcCT)" class="an" x="51.4" y="196.5" fill="#92d050" stroke="#92d050" textLength="33.5" lengthAdjust="spacingAndGlyphs"><tspan>COO</tspan><tspan>’</tspan><tspan>/CO</tspan></text>
<text clip-path="url(#LcCT)" class="an" x="51.4" y="205.2" fill="#92d050" stroke="#92d050" textLength="18" lengthAdjust="spacingAndGlyphs"><tspan>531.8</tspan></text>
<text clip-path="url(#LcCT)" class="an" x="28" y="217.7" fill="#4472c4" stroke="#4472c4" textLength="23.9" lengthAdjust="spacingAndGlyphs"><tspan>COOH</tspan></text>
<text clip-path="url(#LcCT)" class="an" x="28" y="227.7" fill="#4472c4" stroke="#4472c4" textLength="17.2" lengthAdjust="spacingAndGlyphs"><tspan>532.6</tspan></text>
<text clip-path="url(#LcCT)" class="an" x="114" y="238.2" fill="#cf2b38" stroke="#cf2b38" textLength="17.1" lengthAdjust="spacingAndGlyphs"><tspan>Ti-O</tspan></text>
<text clip-path="url(#LcCT)" class="an" x="114" y="248.8" fill="#cf2b38" stroke="#cf2b38" textLength="18.6" lengthAdjust="spacingAndGlyphs"><tspan>530.2</tspan></text>
<line x1="23.3" y1="150.5" x2="23.3" y2="252.9" stroke="#151515" stroke-width="1"/>
<line x1="22" y1="252.4" x2="141.05" y2="252.4" stroke="#151515" stroke-width="1"/>
<path d="M23.3,252.4h-1.4M23.3,249.71h-1.4M23.3,247.02h-1.4M23.3,244.33h-1.4M23.3,241.63h-1.4M23.3,238.94h-1.4M23.3,236.25h-1.4M23.3,233.56h-1.4M23.3,230.87h-1.4M23.3,228.18h-1.4M23.3,225.49h-1.4M23.3,222.79h-1.4M23.3,220.1h-1.4M23.3,217.41h-1.4M23.3,214.72h-1.4M23.3,212.03h-1.4M23.3,209.34h-1.4M23.3,206.65h-1.4M23.3,203.95h-1.4M23.3,201.26h-1.4M23.3,198.57h-1.4M23.3,195.88h-1.4M23.3,193.19h-1.4M23.3,190.5h-1.4M23.3,187.81h-1.4M23.3,185.11h-1.4M23.3,182.42h-1.4M23.3,179.73h-1.4M23.3,177.04h-1.4M23.3,174.35h-1.4M23.3,171.66h-1.4M23.3,168.97h-1.4M23.3,166.27h-1.4M23.3,163.58h-1.4M23.3,160.89h-1.4M23.3,158.2h-1.4M23.3,155.51h-1.4M23.3,152.82h-1.4" stroke="#222" stroke-width="0.65" fill="none"/>
<text class="yl" x="20.7" y="254.3" text-anchor="end" textLength="1.9" lengthAdjust="spacingAndGlyphs">0</text>
<text class="yl" x="7.9" y="240.84" textLength="11.4" lengthAdjust="spacingAndGlyphs">10x10</text>
<text class="yl" x="19.35" y="238.64" font-size="3.4">2</text>
<text class="yl" x="7.9" y="227.39" textLength="11.4" lengthAdjust="spacingAndGlyphs">20x10</text>
<text class="yl" x="19.35" y="225.19" font-size="3.4">2</text>
<text class="yl" x="7.9" y="213.93" textLength="11.4" lengthAdjust="spacingAndGlyphs">30x10</text>
<text class="yl" x="19.35" y="211.73" font-size="3.4">2</text>
<text class="yl" x="7.9" y="200.47" textLength="11.4" lengthAdjust="spacingAndGlyphs">40x10</text>
<text class="yl" x="19.35" y="198.27" font-size="3.4">2</text>
<text class="yl" x="7.9" y="187.01" textLength="11.4" lengthAdjust="spacingAndGlyphs">50x10</text>
<text class="yl" x="19.35" y="184.81" font-size="3.4">2</text>
<text class="yl" x="7.9" y="173.56" textLength="11.4" lengthAdjust="spacingAndGlyphs">60x10</text>
<text class="yl" x="19.35" y="171.36" font-size="3.4">2</text>
<text class="yl" x="7.9" y="160.1" textLength="11.4" lengthAdjust="spacingAndGlyphs">70x10</text>
<text class="yl" x="19.35" y="157.9" font-size="3.4">2</text>
<text class="yl" transform="translate(6.4,198.3) rotate(-90)" text-anchor="middle" font-size="4.2">C P S</text>
<path d="M33.1,252.4v3.4M42.89,252.4v2.0M52.68,252.4v2.0M62.47,252.4v3.4M72.26,252.4v2.0M82.05,252.4v2.0M91.84,252.4v3.4M101.63,252.4v2.0M111.42,252.4v2.0M121.21,252.4v3.4M131,252.4v2.0M23.3,252.4v1.9M140.6,252.4v1.9" stroke="#222" stroke-width="0.65" fill="none"/>
<text class="tk" x="33.1" y="261.8" text-anchor="middle" textLength="6.2" lengthAdjust="spacingAndGlyphs">537</text>
<text class="tk" x="62.47" y="261.8" text-anchor="middle" textLength="6.2" lengthAdjust="spacingAndGlyphs">534</text>
<text class="tk" x="91.84" y="261.8" text-anchor="middle" textLength="6.2" lengthAdjust="spacingAndGlyphs">531</text>
<text class="tk" x="121.21" y="261.8" text-anchor="middle" textLength="6.2" lengthAdjust="spacingAndGlyphs">528</text>
<text class="bx" x="81.86" y="268.2" text-anchor="middle" textLength="37.89" lengthAdjust="spacingAndGlyphs">Binding Energy (eV)</text>
<clipPath id="cCT_P"><rect x="170.3" y="149.9" width="105.7" height="102.5"/></clipPath>
<clipPath id="LcCT_P"><rect x="140.3" y="144.9" width="135.7" height="112.5"/></clipPath>
<rect x="170.3" y="141" width="105.7" height="8.9" fill="#4170c5"/>
<rect x="170.3" y="148.85" width="105.7" height="1.05" fill="#3a63b4"/>
<text class="tt" x="215.25" y="148" textLength="15.5" lengthAdjust="spacingAndGlyphs">CT_P</text>
<line x1="276" y1="149.9" x2="276" y2="252.4" stroke="#9a9a9a" stroke-width="0.9"/>
<g clip-path="url(#cCT_P)" fill="none" stroke-linejoin="round">
<path d="M190.3,252.36 L190.8,252.34 L191.3,252.32 L191.8,252.28 L192.3,252.24 L192.8,252.19 L193.3,252.12 L193.8,252.02 L194.3,251.9 L194.8,251.75 L195.3,251.56 L195.8,251.33 L196.3,251.04 L196.8,250.69 L197.3,250.26 L197.8,249.75 L198.3,249.15 L198.8,248.44 L199.3,247.63 L199.8,246.69 L200.3,245.63 L200.8,244.43 L201.3,243.11 L201.8,241.67 L202.3,240.1 L202.8,238.42 L203.3,236.65 L203.8,234.81 L204.3,232.92 L204.8,231.01 L205.3,229.12 L205.8,227.27 L206.3,225.51 L206.8,223.88 L207.3,222.4 L207.8,221.11 L208.3,220.04 L208.8,219.23 L209.3,218.68 L209.8,218.42 L210.3,218.45 L210.8,218.77 L211.3,219.37 L211.8,220.24 L212.3,221.35 L212.8,222.68 L213.3,224.19 L213.8,225.86 L214.3,227.64 L214.8,229.5 L215.3,231.4 L215.8,233.3 L216.3,235.18 L216.8,237.01 L217.3,238.77 L217.8,240.42 L218.3,241.97 L218.8,243.39 L219.3,244.68 L219.8,245.85 L220.3,246.89 L220.8,247.8 L221.3,248.59 L221.8,249.28 L222.3,249.86 L222.8,250.35 L223.3,250.76 L223.8,251.1 L224.3,251.38 L224.8,251.61 L225.3,251.79 L225.8,251.93 L226.3,252.04 L226.8,252.13 L227.3,252.2 L227.8,252.25 L228.3,252.29 L228.8,252.32 L229.3,252.34 L229.8,252.36" stroke="#7266c2" stroke-width="0.85"/>
<path d="M196.3,252.36 L196.8,252.35 L197.3,252.33 L197.8,252.3 L198.3,252.26 L198.8,252.21 L199.3,252.15 L199.8,252.07 L200.3,251.96 L200.8,251.83 L201.3,251.66 L201.8,251.44 L202.3,251.18 L202.8,250.86 L203.3,250.47 L203.8,250 L204.3,249.45 L204.8,248.79 L205.3,248.03 L205.8,247.16 L206.3,246.16 L206.8,245.04 L207.3,243.79 L207.8,242.41 L208.3,240.91 L208.8,239.3 L209.3,237.59 L209.8,235.8 L210.3,233.96 L210.8,232.08 L211.3,230.21 L211.8,228.36 L212.3,226.59 L212.8,224.92 L213.3,223.4 L213.8,222.05 L214.3,220.91 L214.8,220.01 L215.3,219.36 L215.8,218.99 L216.3,218.91 L216.8,219.11 L217.3,219.59 L217.8,220.34 L218.3,221.34 L218.8,222.57 L219.3,223.99 L219.8,225.58 L220.3,227.29 L220.8,229.09 L221.3,230.95 L221.8,232.83 L222.3,234.7 L222.8,236.53 L223.3,238.29 L223.8,239.96 L224.3,241.52 L224.8,242.97 L225.3,244.3 L225.8,245.5 L226.3,246.57 L226.8,247.52 L227.3,248.35 L227.8,249.07 L228.3,249.68 L228.8,250.2 L229.3,250.63 L229.8,250.99 L230.3,251.29 L230.8,251.53 L231.3,251.73 L231.8,251.88 L232.3,252.01 L232.8,252.1 L233.3,252.18 L233.8,252.23 L234.3,252.28 L234.8,252.31 L235.3,252.34 L235.8,252.35" stroke="#5277c6" stroke-width="0.85"/>
<path d="M208.3,252.35 L208.8,252.33 L209.3,252.3 L209.8,252.26 L210.3,252.21 L210.8,252.13 L211.3,252.04 L211.8,251.91 L212.3,251.74 L212.8,251.53 L213.3,251.27 L213.8,250.94 L214.3,250.55 L214.8,250.07 L215.3,249.51 L215.8,248.86 L216.3,248.11 L216.8,247.27 L217.3,246.34 L217.8,245.33 L218.3,244.25 L218.8,243.12 L219.3,241.97 L219.8,240.81 L220.3,239.69 L220.8,238.63 L221.3,237.66 L221.8,236.82 L222.3,236.13 L222.8,235.62 L223.3,235.31 L223.8,235.2 L224.3,235.31 L224.8,235.62 L225.3,236.13 L225.8,236.82 L226.3,237.66 L226.8,238.63 L227.3,239.69 L227.8,240.81 L228.3,241.97 L228.8,243.12 L229.3,244.25 L229.8,245.33 L230.3,246.34 L230.8,247.27 L231.3,248.11 L231.8,248.86 L232.3,249.51 L232.8,250.07 L233.3,250.55 L233.8,250.94 L234.3,251.27 L234.8,251.53 L235.3,251.74 L235.8,251.91 L236.3,252.04 L236.8,252.13 L237.3,252.21 L237.8,252.26 L238.3,252.3 L238.8,252.33 L239.3,252.35" stroke="#8fbb4a" stroke-width="0.85"/>
<path d="M216.3,252.36 L216.8,252.35 L217.3,252.32 L217.8,252.28 L218.3,252.23 L218.8,252.16 L219.3,252.06 L219.8,251.93 L220.3,251.76 L220.8,251.53 L221.3,251.23 L221.8,250.84 L222.3,250.36 L222.8,249.76 L223.3,249.02 L223.8,248.12 L224.3,247.05 L224.8,245.8 L225.3,244.34 L225.8,242.67 L226.3,240.8 L226.8,238.72 L227.3,236.47 L227.8,234.07 L228.3,231.55 L228.8,228.96 L229.3,226.36 L229.8,223.82 L230.3,221.39 L230.8,219.15 L231.3,217.17 L231.8,215.51 L232.3,214.22 L232.8,213.35 L233.3,212.94 L233.8,212.98 L234.3,213.49 L234.8,214.45 L235.3,215.81 L235.8,217.54 L236.3,219.58 L236.8,221.86 L237.3,224.32 L237.8,226.88 L238.3,229.48 L238.8,232.06 L239.3,234.56 L239.8,236.94 L240.3,239.15 L240.8,241.19 L241.3,243.02 L241.8,244.64 L242.3,246.06 L242.8,247.28 L243.3,248.32 L243.8,249.18 L244.3,249.89 L244.8,250.47 L245.3,250.93 L245.8,251.29 L246.3,251.58 L246.8,251.8 L247.3,251.96 L247.8,252.09 L248.3,252.18 L248.8,252.24 L249.3,252.29 L249.8,252.33 L250.3,252.35 L250.8,252.37" stroke="#ffc526" stroke-width="0.85"/>
<path d="M224.3,252.35 L224.8,252.33 L225.3,252.3 L225.8,252.25 L226.3,252.18 L226.8,252.09 L227.3,251.96 L227.8,251.79 L228.3,251.58 L228.8,251.3 L229.3,250.96 L229.8,250.53 L230.3,250.02 L230.8,249.42 L231.3,248.71 L231.8,247.92 L232.3,247.04 L232.8,246.08 L233.3,245.07 L233.8,244.03 L234.3,242.99 L234.8,241.98 L235.3,241.05 L235.8,240.22 L236.3,239.54 L236.8,239.02 L237.3,238.71 L237.8,238.6 L238.3,238.71 L238.8,239.02 L239.3,239.54 L239.8,240.22 L240.3,241.05 L240.8,241.98 L241.3,242.99 L241.8,244.03 L242.3,245.07 L242.8,246.08 L243.3,247.04 L243.8,247.92 L244.3,248.71 L244.8,249.42 L245.3,250.02 L245.8,250.53 L246.3,250.96 L246.8,251.3 L247.3,251.58 L247.8,251.79 L248.3,251.96 L248.8,252.09 L249.3,252.18 L249.8,252.25 L250.3,252.3 L250.8,252.33 L251.3,252.35" stroke="#e0414a" stroke-width="0.85"/>
<path d="M186.3,252 L186.8,252 L187.3,252 L187.8,252 L188.3,252 L188.8,252 L189.3,252 L189.8,252 L190.3,252 L190.8,252 L191.3,252 L191.8,252 L192.3,251.86 L192.8,251.68 L193.3,251.46 L193.8,251.18 L194.3,250.84 L194.8,250.43 L195.3,249.94 L195.8,249.36 L196.3,248.7 L196.8,247.93 L197.3,247.07 L197.8,246.12 L198.3,245.08 L198.8,243.95 L199.3,242.76 L199.8,241.5 L200.3,240.21 L200.8,238.87 L201.3,237.52 L201.8,236.15 L202.3,234.78 L202.8,233.39 L203.3,231.98 L203.8,230.54 L204.3,229.05 L204.8,227.49 L205.3,225.83 L205.8,224.04 L206.3,222.12 L206.8,220.04 L207.3,217.81 L207.8,215.43 L208.3,212.93 L208.8,210.35 L209.3,207.74 L209.8,205.15 L210.3,202.66 L210.8,200.32 L211.3,198.2 L211.8,196.35 L212.3,194.82 L212.8,193.64 L213.3,192.82 L213.8,192.36 L214.3,192.23 L214.8,192.41 L215.3,192.86 L215.8,193.53 L216.3,194.37 L216.8,195.35 L217.3,196.43 L217.8,197.58 L218.3,198.78 L218.8,200.01 L219.3,201.27 L219.8,202.55 L220.3,203.85 L220.8,205.17 L221.3,206.52 L221.8,207.87 L222.3,209.21 L222.8,210.52 L223.3,211.78 L223.8,212.94 L224.3,213.98 L224.8,214.84 L225.3,215.48 L225.8,215.88 L226.3,216.01 L226.8,215.84 L227.3,215.37 L227.8,214.6 L228.3,213.57 L228.8,212.32 L229.3,210.9 L229.8,209.37 L230.3,207.81 L230.8,206.3 L231.3,204.92 L231.8,203.72 L232.3,202.75 L232.8,202.05 L233.3,201.62 L233.8,201.46 L234.3,201.54 L234.8,201.81 L235.3,202.23 L235.8,202.78 L236.3,203.43 L236.8,204.19 L237.3,205.08 L237.8,206.16 L238.3,207.49 L238.8,209.14 L239.3,211.15 L239.8,213.55 L240.3,216.35 L240.8,219.5 L241.3,222.91 L241.8,226.49 L242.3,230.11 L242.8,233.64 L243.3,236.97 L243.8,240 L244.3,242.67 L244.8,244.95 L245.3,246.83 L245.8,248.34 L246.3,249.51 L246.8,250.39 L247.3,251.04 L247.8,251.5 L248.3,251.82 L248.8,252 L249.3,252 L249.8,252 L250.3,252 L250.8,252 L251.3,252 L251.8,252 L252.3,252 L252.8,252 L253.3,252 L253.8,252" stroke="#a83363" stroke-width="1.05"/>
</g>
<line x1="200.8" y1="194" x2="215.7" y2="218.5" stroke="#4472c4" stroke-width="0.5" opacity="0.7"/>
<circle cx="200.8" cy="194" r="0.9" fill="#4472c4"/>
<line x1="227.3" y1="181" x2="224" y2="234" stroke="#92d050" stroke-width="0.5" opacity="0.7"/>
<circle cx="227.3" cy="181" r="0.9" fill="#92d050"/>
<line x1="186.7" y1="232.2" x2="199.5" y2="241.2" stroke="#7c44b4" stroke-width="0.5" opacity="0.7"/>
<circle cx="186.7" cy="232.2" r="0.9" fill="#7c44b4"/>
<line x1="246.9" y1="232.8" x2="240.9" y2="239.7" stroke="#cf2b38" stroke-width="0.5" opacity="0.7"/>
<circle cx="246.9" cy="232.8" r="0.9" fill="#cf2b38"/>
<text clip-path="url(#LcCT_P)" class="an" x="176.8" y="180.3" fill="#4472c4" stroke="#4472c4" textLength="24.6" lengthAdjust="spacingAndGlyphs"><tspan>COOH</tspan></text>
<text clip-path="url(#LcCT_P)" class="an" x="176.8" y="189" fill="#4472c4" stroke="#4472c4" textLength="18.3" lengthAdjust="spacingAndGlyphs"><tspan>532.8</tspan></text>
<text clip-path="url(#LcCT_P)" class="an" x="230.8" y="178.9" fill="#92d050" stroke="#92d050" textLength="34.1" lengthAdjust="spacingAndGlyphs"><tspan>COO</tspan><tspan>’</tspan><tspan>/CO</tspan></text>
<text clip-path="url(#LcCT_P)" class="an" x="230.8" y="188.5" fill="#92d050" stroke="#92d050" textLength="16.9" lengthAdjust="spacingAndGlyphs"><tspan>531.9</tspan></text>
<text clip-path="url(#LcCT_P)" class="an" x="242.4" y="207.2" fill="#ffc000" stroke="#ffc000" textLength="21.1" lengthAdjust="spacingAndGlyphs"><tspan>acOH</tspan></text>
<text clip-path="url(#LcCT_P)" class="an" x="242.4" y="216.5" fill="#ffc000" stroke="#ffc000" textLength="19.6" lengthAdjust="spacingAndGlyphs"><tspan>530.8</tspan></text>
<text clip-path="url(#LcCT_P)" class="an" x="174.6" y="218.6" fill="#7c44b4" stroke="#7c44b4" textLength="24.1" lengthAdjust="spacingAndGlyphs"><tspan>Ar-OH</tspan></text>
<text clip-path="url(#LcCT_P)" class="an" x="174.6" y="227.6" fill="#7c44b4" stroke="#7c44b4" textLength="17.2" lengthAdjust="spacingAndGlyphs"><tspan>533.4</tspan></text>
<text clip-path="url(#LcCT_P)" class="an" x="252" y="230.6" fill="#cf2b38" stroke="#cf2b38" textLength="15.1" lengthAdjust="spacingAndGlyphs"><tspan>Ti-O</tspan></text>
<text clip-path="url(#LcCT_P)" class="an" x="252" y="239.7" fill="#cf2b38" stroke="#cf2b38" textLength="16" lengthAdjust="spacingAndGlyphs"><tspan>530.4</tspan></text>
<line x1="170.3" y1="149.9" x2="170.3" y2="252.9" stroke="#151515" stroke-width="1"/>
<line x1="169" y1="252.4" x2="276.45" y2="252.4" stroke="#151515" stroke-width="1"/>
<path d="M170.3,252.4h-1.4M170.3,249.17h-1.4M170.3,245.94h-1.4M170.3,242.71h-1.4M170.3,239.48h-1.4M170.3,236.25h-1.4M170.3,233.02h-1.4M170.3,229.79h-1.4M170.3,226.56h-1.4M170.3,223.33h-1.4M170.3,220.1h-1.4M170.3,216.87h-1.4M170.3,213.64h-1.4M170.3,210.41h-1.4M170.3,207.18h-1.4M170.3,203.95h-1.4M170.3,200.72h-1.4M170.3,197.49h-1.4M170.3,194.26h-1.4M170.3,191.03h-1.4M170.3,187.8h-1.4M170.3,184.57h-1.4M170.3,181.34h-1.4M170.3,178.11h-1.4M170.3,174.88h-1.4M170.3,171.65h-1.4M170.3,168.42h-1.4M170.3,165.19h-1.4M170.3,161.96h-1.4M170.3,158.73h-1.4M170.3,155.5h-1.4M170.3,152.27h-1.4" stroke="#222" stroke-width="0.65" fill="none"/>
<text class="yl" x="167.7" y="254.3" text-anchor="end" textLength="1.9" lengthAdjust="spacingAndGlyphs">0</text>
<text class="yl" x="157.18" y="238.15" textLength="9.12" lengthAdjust="spacingAndGlyphs">5x10</text>
<text class="yl" x="166.35" y="235.95" font-size="3.4">2</text>
<text class="yl" x="154.9" y="222" textLength="11.4" lengthAdjust="spacingAndGlyphs">10x10</text>
<text class="yl" x="166.35" y="219.8" font-size="3.4">2</text>
<text class="yl" x="154.9" y="205.85" textLength="11.4" lengthAdjust="spacingAndGlyphs">15x10</text>
<text class="yl" x="166.35" y="203.65" font-size="3.4">2</text>
<text class="yl" x="154.9" y="189.7" textLength="11.4" lengthAdjust="spacingAndGlyphs">20x10</text>
<text class="yl" x="166.35" y="187.5" font-size="3.4">2</text>
<text class="yl" x="154.9" y="173.55" textLength="11.4" lengthAdjust="spacingAndGlyphs">25x10</text>
<text class="yl" x="166.35" y="171.35" font-size="3.4">2</text>
<text class="yl" x="154.9" y="157.4" textLength="11.4" lengthAdjust="spacingAndGlyphs">30x10</text>
<text class="yl" x="166.35" y="155.2" font-size="3.4">2</text>
<text class="yl" transform="translate(153.4,200.6) rotate(-90)" text-anchor="middle" font-size="4.2">C P S</text>
<path d="M178.9,252.4v3.4M187.71,252.4v2.0M196.52,252.4v2.0M205.33,252.4v3.4M214.14,252.4v2.0M222.95,252.4v2.0M231.76,252.4v3.4M240.57,252.4v2.0M249.38,252.4v2.0M258.19,252.4v3.4M267,252.4v2.0M170.3,252.4v1.9M276,252.4v1.9" stroke="#222" stroke-width="0.65" fill="none"/>
<text class="tk" x="178.9" y="261.8" text-anchor="middle" textLength="6.2" lengthAdjust="spacingAndGlyphs">537</text>
<text class="tk" x="205.33" y="261.8" text-anchor="middle" textLength="6.2" lengthAdjust="spacingAndGlyphs">534</text>
<text class="tk" x="231.76" y="261.8" text-anchor="middle" textLength="6.2" lengthAdjust="spacingAndGlyphs">531</text>
<text class="tk" x="258.19" y="261.8" text-anchor="middle" textLength="6.2" lengthAdjust="spacingAndGlyphs">528</text>
<text class="bx" x="223.25" y="268.2" text-anchor="middle" textLength="34.09" lengthAdjust="spacingAndGlyphs">Binding Energy (eV)</text>
<clipPath id="cCT_P_Ca"><rect x="304" y="149.5" width="106.8" height="102.9"/></clipPath>
<clipPath id="LcCT_P_Ca"><rect x="274" y="144.5" width="136.8" height="112.9"/></clipPath>
<rect x="304" y="140.4" width="106.8" height="9.1" fill="#4170c5"/>
<rect x="304" y="148.45" width="106.8" height="1.05" fill="#2d4f92"/>
<text class="tt" x="343.65" y="147.3" textLength="27.5" lengthAdjust="spacingAndGlyphs">CT_P_Ca</text>
<line x1="410.8" y1="149.5" x2="410.8" y2="252.4" stroke="#9a9a9a" stroke-width="0.9"/>
<g clip-path="url(#cCT_P_Ca)" fill="none" stroke-linejoin="round">
<path d="M327,252.35 L327.5,252.33 L328,252.31 L328.5,252.27 L329,252.22 L329.5,252.16 L330,252.07 L330.5,251.96 L331,251.82 L331.5,251.63 L332,251.4 L332.5,251.12 L333,250.76 L333.5,250.33 L334,249.8 L334.5,249.16 L335,248.41 L335.5,247.53 L336,246.5 L336.5,245.32 L337,243.97 L337.5,242.47 L338,240.79 L338.5,238.96 L339,236.97 L339.5,234.84 L340,232.6 L340.5,230.27 L341,227.89 L341.5,225.49 L342,223.11 L342.5,220.81 L343,218.63 L343.5,216.62 L344,214.82 L344.5,213.29 L345,212.05 L345.5,211.14 L346,210.59 L346.5,210.4 L347,210.59 L347.5,211.14 L348,212.05 L348.5,213.29 L349,214.82 L349.5,216.62 L350,218.63 L350.5,220.81 L351,223.11 L351.5,225.49 L352,227.89 L352.5,230.27 L353,232.6 L353.5,234.84 L354,236.97 L354.5,238.96 L355,240.79 L355.5,242.47 L356,243.97 L356.5,245.32 L357,246.5 L357.5,247.53 L358,248.41 L358.5,249.16 L359,249.8 L359.5,250.33 L360,250.76 L360.5,251.12 L361,251.4 L361.5,251.63 L362,251.82 L362.5,251.96 L363,252.07 L363.5,252.16 L364,252.22 L364.5,252.27 L365,252.31 L365.5,252.33 L366,252.35" stroke="#7266c2" stroke-width="0.85"/>
<path d="M332,252.36 L332.5,252.34 L333,252.31 L333.5,252.28 L334,252.23 L334.5,252.17 L335,252.09 L335.5,251.98 L336,251.84 L336.5,251.66 L337,251.43 L337.5,251.14 L338,250.78 L338.5,250.33 L339,249.78 L339.5,249.12 L340,248.32 L340.5,247.37 L341,246.25 L341.5,244.95 L342,243.46 L342.5,241.77 L343,239.87 L343.5,237.75 L344,235.44 L344.5,232.93 L345,230.24 L345.5,227.42 L346,224.48 L346.5,221.47 L347,218.44 L347.5,215.44 L348,212.54 L348.5,209.78 L349,207.25 L349.5,204.98 L350,203.04 L350.5,201.48 L351,200.34 L351.5,199.64 L352,199.4 L352.5,199.64 L353,200.34 L353.5,201.48 L354,203.04 L354.5,204.98 L355,207.25 L355.5,209.78 L356,212.54 L356.5,215.44 L357,218.44 L357.5,221.47 L358,224.48 L358.5,227.42 L359,230.24 L359.5,232.93 L360,235.44 L360.5,237.75 L361,239.87 L361.5,241.77 L362,243.46 L362.5,244.95 L363,246.25 L363.5,247.37 L364,248.32 L364.5,249.12 L365,249.78 L365.5,250.33 L366,250.78 L366.5,251.14 L367,251.43 L367.5,251.66 L368,251.84 L368.5,251.98 L369,252.09 L369.5,252.17 L370,252.23 L370.5,252.28 L371,252.31 L371.5,252.34 L372,252.36" stroke="#5277c6" stroke-width="0.85"/>
<path d="M347.5,252.35 L348,252.33 L348.5,252.31 L349,252.27 L349.5,252.23 L350,252.17 L350.5,252.1 L351,252.01 L351.5,251.89 L352,251.75 L352.5,251.59 L353,251.39 L353.5,251.16 L354,250.9 L354.5,250.61 L355,250.29 L355.5,249.93 L356,249.56 L356.5,249.16 L357,248.76 L357.5,248.36 L358,247.97 L358.5,247.6 L359,247.26 L359.5,246.96 L360,246.72 L360.5,246.55 L361,246.44 L361.5,246.4 L362,246.44 L362.5,246.55 L363,246.72 L363.5,246.96 L364,247.26 L364.5,247.6 L365,247.97 L365.5,248.36 L366,248.76 L366.5,249.16 L367,249.56 L367.5,249.93 L368,250.29 L368.5,250.61 L369,250.9 L369.5,251.16 L370,251.39 L370.5,251.59 L371,251.75 L371.5,251.89 L372,252.01 L372.5,252.1 L373,252.17 L373.5,252.23 L374,252.27 L374.5,252.31 L375,252.33 L375.5,252.35" stroke="#8fbb4a" stroke-width="0.85"/>
<path d="M349.5,252.35 L350,252.34 L350.5,252.31 L351,252.28 L351.5,252.24 L352,252.18 L352.5,252.11 L353,252.02 L353.5,251.9 L354,251.75 L354.5,251.57 L355,251.35 L355.5,251.08 L356,250.76 L356.5,250.37 L357,249.92 L357.5,249.4 L358,248.8 L358.5,248.12 L359,247.36 L359.5,246.51 L360,245.6 L360.5,244.6 L361,243.55 L361.5,242.45 L362,241.31 L362.5,240.16 L363,239.01 L363.5,237.89 L364,236.82 L364.5,235.82 L365,234.93 L365.5,234.15 L366,233.52 L366.5,233.04 L367,232.73 L367.5,232.6 L368,232.66 L368.5,232.89 L369,233.3 L369.5,233.88 L370,234.6 L370.5,235.45 L371,236.41 L371.5,237.45 L372,238.56 L372.5,239.7 L373,240.85 L373.5,242 L374,243.12 L374.5,244.19 L375,245.21 L375.5,246.16 L376,247.03 L376.5,247.82 L377,248.54 L377.5,249.17 L378,249.72 L378.5,250.2 L379,250.61 L379.5,250.96 L380,251.25 L380.5,251.49 L381,251.68 L381.5,251.84 L382,251.97 L382.5,252.07 L383,252.15 L383.5,252.22 L384,252.26 L384.5,252.3 L385,252.33 L385.5,252.35 L386,252.36" stroke="#ffc526" stroke-width="0.85"/>
<path d="M365.5,252.36 L366,252.33 L366.5,252.3 L367,252.25 L367.5,252.18 L368,252.09 L368.5,251.97 L369,251.82 L369.5,251.63 L370,251.41 L370.5,251.15 L371,250.86 L371.5,250.54 L372,250.22 L372.5,249.89 L373,249.58 L373.5,249.3 L374,249.07 L374.5,248.9 L375,248.81 L375.5,248.81 L376,248.88 L376.5,249.03 L377,249.25 L377.5,249.52 L378,249.82 L378.5,250.15 L379,250.48 L379.5,250.8 L380,251.09 L380.5,251.36 L381,251.59 L381.5,251.78 L382,251.94 L382.5,252.07 L383,252.16 L383.5,252.24 L384,252.29 L384.5,252.33 L385,252.35" stroke="#e0414a" stroke-width="0.85"/>
<path d="M318,252 L318.5,252 L319,252 L319.5,252 L320,252 L320.5,252 L321,252 L321.5,252 L322,252 L322.5,251.99 L323,251.91 L323.5,251.82 L324,251.71 L324.5,251.58 L325,251.43 L325.5,251.26 L326,251.06 L326.5,250.84 L327,250.58 L327.5,250.3 L328,249.97 L328.5,249.6 L329,249.19 L329.5,248.74 L330,248.23 L330.5,247.67 L331,247.05 L331.5,246.37 L332,245.62 L332.5,244.81 L333,243.92 L333.5,242.95 L334,241.9 L334.5,240.75 L335,239.51 L335.5,238.17 L336,236.72 L336.5,235.14 L337,233.44 L337.5,231.59 L338,229.6 L338.5,227.45 L339,225.13 L339.5,222.64 L340,219.97 L340.5,217.13 L341,214.11 L341.5,210.92 L342,207.57 L342.5,204.1 L343,200.51 L343.5,196.85 L344,193.17 L344.5,189.5 L345,185.9 L345.5,182.43 L346,179.15 L346.5,176.13 L347,173.42 L347.5,171.08 L348,169.15 L348.5,167.69 L349,166.71 L349.5,166.25 L350,166.3 L350.5,166.85 L351,167.89 L351.5,169.39 L352,171.29 L352.5,173.55 L353,176.1 L353.5,178.9 L354,181.86 L354.5,184.94 L355,188.07 L355.5,191.2 L356,194.29 L356.5,197.31 L357,200.23 L357.5,203.03 L358,205.69 L358.5,208.22 L359,210.62 L359.5,212.89 L360,215.03 L360.5,217.04 L361,218.92 L361.5,220.68 L362,222.29 L362.5,223.74 L363,225.03 L363.5,226.13 L364,227.04 L364.5,227.76 L365,228.3 L365.5,228.69 L366,228.97 L366.5,229.21 L367,229.45 L367.5,229.79 L368,230.26 L368.5,230.94 L369,231.84 L369.5,232.98 L370,234.34 L370.5,235.89 L371,237.56 L371.5,239.3 L372,241.03 L372.5,242.69 L373,244.23 L373.5,245.61 L374,246.8 L374.5,247.81 L375,248.63 L375.5,249.28 L376,249.78 L376.5,250.17 L377,250.45 L377.5,250.66 L378,250.81 L378.5,250.92 L379,251 L379.5,251.06 L380,251.11 L380.5,251.15 L381,251.18 L381.5,251.22 L382,251.25 L382.5,251.28 L383,251.31 L383.5,251.35 L384,251.38 L384.5,251.41 L385,251.45 L385.5,251.48 L386,251.52 L386.5,251.55 L387,251.59 L387.5,251.62 L388,251.66 L388.5,251.69 L389,251.73 L389.5,251.76 L390,251.79 L390.5,251.82 L391,251.86 L391.5,251.89 L392,251.92" stroke="#a83363" stroke-width="1.05"/>
</g>
<line x1="365.8" y1="171" x2="353.6" y2="198.9" stroke="#4472c4" stroke-width="0.5" opacity="0.7"/>
<circle cx="365.8" cy="171" r="0.9" fill="#4472c4"/>
<line x1="325.3" y1="216.6" x2="337.3" y2="229.2" stroke="#7c44b4" stroke-width="0.5" opacity="0.7"/>
<circle cx="325.3" cy="216.6" r="0.9" fill="#7c44b4"/>
<line x1="370.8" y1="203.6" x2="367.1" y2="231.4" stroke="#ffc000" stroke-width="0.5" opacity="0.7"/>
<circle cx="370.8" cy="203.6" r="0.9" fill="#ffc000"/>
<line x1="331.5" y1="239.4" x2="360.9" y2="246.8" stroke="#92d050" stroke-width="0.5" opacity="0.7"/>
<circle cx="331.5" cy="239.4" r="0.9" fill="#92d050"/>
<line x1="386.2" y1="236" x2="377.4" y2="248.6" stroke="#cf2b38" stroke-width="0.5" opacity="0.7"/>
<circle cx="386.2" cy="236" r="0.9" fill="#cf2b38"/>
<text clip-path="url(#LcCT_P_Ca)" class="an" x="370.6" y="162.4" fill="#4472c4" stroke="#4472c4" textLength="24.7" lengthAdjust="spacingAndGlyphs"><tspan>COOH</tspan></text>
<text clip-path="url(#LcCT_P_Ca)" class="an" x="370.6" y="171.5" fill="#4472c4" stroke="#4472c4" textLength="20.1" lengthAdjust="spacingAndGlyphs"><tspan>532.7</tspan></text>
<text clip-path="url(#LcCT_P_Ca)" class="an" x="315.5" y="193.3" fill="#7c44b4" stroke="#7c44b4" textLength="23.2" lengthAdjust="spacingAndGlyphs"><tspan>Ar-OH</tspan></text>
<text clip-path="url(#LcCT_P_Ca)" class="an" x="315.5" y="202.3" fill="#7c44b4" stroke="#7c44b4" textLength="17.3" lengthAdjust="spacingAndGlyphs"><tspan>533.3</tspan></text>
<text clip-path="url(#LcCT_P_Ca)" class="an" x="367.5" y="199.1" fill="#ffc000" stroke="#ffc000" textLength="38.6" lengthAdjust="spacingAndGlyphs"><tspan>acOH 531.0</tspan></text>
<text clip-path="url(#LcCT_P_Ca)" class="an" x="309.3" y="230.7" fill="#92d050" stroke="#92d050" textLength="17.5" lengthAdjust="spacingAndGlyphs"><tspan>COO</tspan></text>
<text clip-path="url(#LcCT_P_Ca)" class="an" x="309.3" y="239.8" fill="#92d050" stroke="#92d050" textLength="12.9" lengthAdjust="spacingAndGlyphs"><tspan>/CO</tspan></text>
<text clip-path="url(#LcCT_P_Ca)" class="an" x="309.3" y="248.8" fill="#92d050" stroke="#92d050" textLength="17.5" lengthAdjust="spacingAndGlyphs"><tspan>531.7</tspan></text>
<text clip-path="url(#LcCT_P_Ca)" class="an" x="385" y="223.8" fill="#cf2b38" stroke="#cf2b38" textLength="17.2" lengthAdjust="spacingAndGlyphs"><tspan>Ti-O</tspan></text>
<text clip-path="url(#LcCT_P_Ca)" class="an" x="385" y="233.1" fill="#cf2b38" stroke="#cf2b38" textLength="18.7" lengthAdjust="spacingAndGlyphs"><tspan>529.9</tspan></text>
<line x1="304" y1="149.5" x2="304" y2="252.9" stroke="#151515" stroke-width="1"/>
<line x1="302.7" y1="252.4" x2="411.25" y2="252.4" stroke="#151515" stroke-width="1"/>
<path d="M304,252.4h-1.4M304,249.17h-1.4M304,245.95h-1.4M304,242.72h-1.4M304,239.49h-1.4M304,236.27h-1.4M304,233.04h-1.4M304,229.81h-1.4M304,226.59h-1.4M304,223.36h-1.4M304,220.13h-1.4M304,216.91h-1.4M304,213.68h-1.4M304,210.45h-1.4M304,207.23h-1.4M304,204h-1.4M304,200.77h-1.4M304,197.55h-1.4M304,194.32h-1.4M304,191.09h-1.4M304,187.87h-1.4M304,184.64h-1.4M304,181.41h-1.4M304,178.19h-1.4M304,174.96h-1.4M304,171.73h-1.4M304,168.51h-1.4M304,165.28h-1.4M304,162.05h-1.4M304,158.83h-1.4M304,155.6h-1.4M304,152.37h-1.4" stroke="#222" stroke-width="0.65" fill="none"/>
<text class="yl" x="301.4" y="254.3" text-anchor="end" textLength="1.9" lengthAdjust="spacingAndGlyphs">0</text>
<text class="yl" x="290.88" y="238.17" textLength="9.12" lengthAdjust="spacingAndGlyphs">5x10</text>
<text class="yl" x="300.05" y="235.97" font-size="3.4">2</text>
<text class="yl" x="288.6" y="222.03" textLength="11.4" lengthAdjust="spacingAndGlyphs">10x10</text>
<text class="yl" x="300.05" y="219.83" font-size="3.4">2</text>
<text class="yl" x="288.6" y="205.9" textLength="11.4" lengthAdjust="spacingAndGlyphs">15x10</text>
<text class="yl" x="300.05" y="203.7" font-size="3.4">2</text>
<text class="yl" x="288.6" y="189.77" textLength="11.4" lengthAdjust="spacingAndGlyphs">20x10</text>
<text class="yl" x="300.05" y="187.57" font-size="3.4">2</text>
<text class="yl" x="288.6" y="173.63" textLength="11.4" lengthAdjust="spacingAndGlyphs">25x10</text>
<text class="yl" x="300.05" y="171.43" font-size="3.4">2</text>
<text class="yl" x="288.6" y="157.5" textLength="11.4" lengthAdjust="spacingAndGlyphs">30x10</text>
<text class="yl" x="300.05" y="155.3" font-size="3.4">2</text>
<text class="yl" transform="translate(287.1,200.6) rotate(-90)" text-anchor="middle" font-size="4.2">C P S</text>
<path d="M305.47,252.4v2.0M314.2,252.4v3.4M322.93,252.4v2.0M331.66,252.4v2.0M340.39,252.4v3.4M349.12,252.4v2.0M357.85,252.4v2.0M366.58,252.4v3.4M375.31,252.4v2.0M384.04,252.4v2.0M392.77,252.4v3.4M401.5,252.4v2.0M410.23,252.4v2.0M304,252.4v1.9M410.8,252.4v1.9" stroke="#222" stroke-width="0.65" fill="none"/>
<text class="tk" x="314.2" y="261.8" text-anchor="middle" textLength="6.2" lengthAdjust="spacingAndGlyphs">537</text>
<text class="tk" x="340.39" y="261.8" text-anchor="middle" textLength="6.2" lengthAdjust="spacingAndGlyphs">534</text>
<text class="tk" x="366.58" y="261.8" text-anchor="middle" textLength="6.2" lengthAdjust="spacingAndGlyphs">531</text>
<text class="tk" x="392.77" y="261.8" text-anchor="middle" textLength="6.2" lengthAdjust="spacingAndGlyphs">528</text>
<text class="bx" x="358.19" y="268.2" text-anchor="middle" textLength="33.79" lengthAdjust="spacingAndGlyphs">Binding Energy (eV)</text>
<clipPath id="cCT_P_Ca_pza"><rect x="439.6" y="149.9" width="106.4" height="102.5"/></clipPath>
<clipPath id="LcCT_P_Ca_pza"><rect x="409.6" y="144.9" width="136.4" height="112.5"/></clipPath>
<rect x="439.6" y="141" width="106.4" height="8.9" fill="#4170c5"/>
<rect x="439.6" y="148.85" width="106.4" height="1.05" fill="#3a63b4"/>
<text class="tt" x="472" y="148.4" textLength="42" lengthAdjust="spacingAndGlyphs">CT_P_Ca_pza</text>
<line x1="546" y1="149.9" x2="546" y2="252.4" stroke="#9a9a9a" stroke-width="0.9"/>
<g clip-path="url(#cCT_P_Ca_pza)" fill="none" stroke-linejoin="round">
<path d="M459.6,252.35 L460.1,252.33 L460.6,252.31 L461.1,252.27 L461.6,252.22 L462.1,252.16 L462.6,252.08 L463.1,251.98 L463.6,251.84 L464.1,251.67 L464.6,251.46 L465.1,251.2 L465.6,250.87 L466.1,250.47 L466.6,250 L467.1,249.43 L467.6,248.75 L468.1,247.97 L468.6,247.06 L469.1,246.03 L469.6,244.86 L470.1,243.56 L470.6,242.13 L471.1,240.57 L471.6,238.89 L472.1,237.11 L472.6,235.25 L473.1,233.33 L473.6,231.39 L474.1,229.45 L474.6,227.56 L475.1,225.75 L475.6,224.07 L476.1,222.54 L476.6,221.21 L477.1,220.1 L477.6,219.26 L478.1,218.7 L478.6,218.42 L479.1,218.45 L479.6,218.79 L480.1,219.41 L480.6,220.31 L481.1,221.46 L481.6,222.83 L482.1,224.39 L482.6,226.11 L483.1,227.94 L483.6,229.84 L484.1,231.78 L484.6,233.72 L485.1,235.63 L485.6,237.47 L486.1,239.23 L486.6,240.89 L487.1,242.42 L487.6,243.83 L488.1,245.11 L488.6,246.25 L489.1,247.26 L489.6,248.14 L490.1,248.9 L490.6,249.55 L491.1,250.1 L491.6,250.56 L492.1,250.94 L492.6,251.25 L493.1,251.51 L493.6,251.71 L494.1,251.87 L494.6,252 L495.1,252.1 L495.6,252.18 L496.1,252.23 L496.6,252.28 L497.1,252.31 L497.6,252.34 L498.1,252.36" stroke="#7266c2" stroke-width="0.85"/>
<path d="M463.6,252.36 L464.1,252.35 L464.6,252.33 L465.1,252.3 L465.6,252.27 L466.1,252.23 L466.6,252.17 L467.1,252.09 L467.6,252 L468.1,251.88 L468.6,251.72 L469.1,251.53 L469.6,251.3 L470.1,251.01 L470.6,250.66 L471.1,250.23 L471.6,249.73 L472.1,249.13 L472.6,248.42 L473.1,247.6 L473.6,246.66 L474.1,245.59 L474.6,244.37 L475.1,243.02 L475.6,241.52 L476.1,239.87 L476.6,238.09 L477.1,236.17 L477.6,234.15 L478.1,232.02 L478.6,229.83 L479.1,227.59 L479.6,225.33 L480.1,223.1 L480.6,220.92 L481.1,218.85 L481.6,216.91 L482.1,215.15 L482.6,213.6 L483.1,212.29 L483.6,211.26 L484.1,210.53 L484.6,210.1 L485.1,210.01 L485.6,210.23 L486.1,210.78 L486.6,211.64 L487.1,212.78 L487.6,214.19 L488.1,215.83 L488.6,217.67 L489.1,219.66 L489.6,221.78 L490.1,223.99 L490.6,226.23 L491.1,228.48 L491.6,230.71 L492.1,232.88 L492.6,234.97 L493.1,236.95 L493.6,238.82 L494.1,240.54 L494.6,242.13 L495.1,243.58 L495.6,244.88 L496.1,246.03 L496.6,247.05 L497.1,247.95 L497.6,248.72 L498.1,249.38 L498.6,249.94 L499.1,250.41 L499.6,250.81 L500.1,251.13 L500.6,251.4 L501.1,251.61 L501.6,251.79 L502.1,251.93 L502.6,252.04 L503.1,252.13 L503.6,252.19 L504.1,252.25 L504.6,252.29 L505.1,252.32 L505.6,252.34 L506.1,252.36" stroke="#5277c6" stroke-width="0.85"/>
<path d="M481.1,252.36 L481.6,252.34 L482.1,252.31 L482.6,252.27 L483.1,252.22 L483.6,252.15 L484.1,252.07 L484.6,251.95 L485.1,251.8 L485.6,251.61 L486.1,251.38 L486.6,251.09 L487.1,250.75 L487.6,250.33 L488.1,249.84 L488.6,249.28 L489.1,248.64 L489.6,247.93 L490.1,247.15 L490.6,246.3 L491.1,245.4 L491.6,244.47 L492.1,243.53 L492.6,242.6 L493.1,241.7 L493.6,240.86 L494.1,240.11 L494.6,239.48 L495.1,238.97 L495.6,238.62 L496.1,238.43 L496.6,238.41 L497.1,238.57 L497.6,238.89 L498.1,239.36 L498.6,239.98 L499.1,240.71 L499.6,241.53 L500.1,242.42 L500.6,243.34 L501.1,244.29 L501.6,245.22 L502.1,246.12 L502.6,246.98 L503.1,247.78 L503.6,248.51 L504.1,249.16 L504.6,249.74 L505.1,250.24 L505.6,250.67 L506.1,251.03 L506.6,251.33 L507.1,251.57 L507.6,251.77 L508.1,251.92 L508.6,252.05 L509.1,252.14 L509.6,252.21 L510.1,252.26 L510.6,252.3 L511.1,252.33 L511.6,252.35" stroke="#8fbb4a" stroke-width="0.85"/>
<path d="M486.1,252.37 L486.6,252.35 L487.1,252.32 L487.6,252.29 L488.1,252.24 L488.6,252.16 L489.1,252.06 L489.6,251.93 L490.1,251.74 L490.6,251.5 L491.1,251.17 L491.6,250.76 L492.1,250.22 L492.6,249.55 L493.1,248.73 L493.6,247.72 L494.1,246.5 L494.6,245.06 L495.1,243.38 L495.6,241.45 L496.1,239.27 L496.6,236.85 L497.1,234.21 L497.6,231.38 L498.1,228.41 L498.6,225.36 L499.1,222.29 L499.6,219.29 L500.1,216.43 L500.6,213.81 L501.1,211.5 L501.6,209.59 L502.1,208.14 L502.6,207.2 L503.1,206.81 L503.6,206.98 L504.1,207.7 L504.6,208.95 L505.1,210.69 L505.6,212.85 L506.1,215.35 L506.6,218.12 L507.1,221.08 L507.6,224.13 L508.1,227.19 L508.6,230.2 L509.1,233.09 L509.6,235.81 L510.1,238.33 L510.6,240.6 L511.1,242.63 L511.6,244.41 L512.1,245.95 L512.6,247.25 L513.1,248.35 L513.6,249.24 L514.1,249.97 L514.6,250.56 L515.1,251.02 L515.6,251.38 L516.1,251.65 L516.6,251.86 L517.1,252.01 L517.6,252.13 L518.1,252.21 L518.6,252.27 L519.1,252.31 L519.6,252.34 L520.1,252.36" stroke="#ffc526" stroke-width="0.85"/>
<path d="M496.6,252.36 L497.1,252.34 L497.6,252.31 L498.1,252.26 L498.6,252.21 L499.1,252.13 L499.6,252.02 L500.1,251.89 L500.6,251.72 L501.1,251.52 L501.6,251.26 L502.1,250.96 L502.6,250.62 L503.1,250.22 L503.6,249.79 L504.1,249.32 L504.6,248.84 L505.1,248.34 L505.6,247.86 L506.1,247.41 L506.6,247 L507.1,246.66 L507.6,246.41 L508.1,246.25 L508.6,246.2 L509.1,246.25 L509.6,246.41 L510.1,246.66 L510.6,247 L511.1,247.41 L511.6,247.86 L512.1,248.34 L512.6,248.84 L513.1,249.32 L513.6,249.79 L514.1,250.22 L514.6,250.62 L515.1,250.96 L515.6,251.26 L516.1,251.52 L516.6,251.72 L517.1,251.89 L517.6,252.02 L518.1,252.13 L518.6,252.21 L519.1,252.26 L519.6,252.31 L520.1,252.34 L520.6,252.36" stroke="#e0414a" stroke-width="0.85"/>
<path d="M452.1,252 L452.6,252 L453.1,252 L453.6,252 L454.1,252 L454.6,252 L455.1,252 L455.6,252 L456.1,252 L456.6,252 L457.1,251.9 L457.6,251.77 L458.1,251.62 L458.6,251.44 L459.1,251.23 L459.6,250.98 L460.1,250.69 L460.6,250.35 L461.1,249.97 L461.6,249.53 L462.1,249.04 L462.6,248.48 L463.1,247.87 L463.6,247.2 L464.1,246.46 L464.6,245.66 L465.1,244.8 L465.6,243.88 L466.1,242.9 L466.6,241.87 L467.1,240.78 L467.6,239.64 L468.1,238.45 L468.6,237.21 L469.1,235.9 L469.6,234.54 L470.1,233.11 L470.6,231.6 L471.1,230 L471.6,228.31 L472.1,226.51 L472.6,224.58 L473.1,222.53 L473.6,220.33 L474.1,218 L474.6,215.52 L475.1,212.91 L475.6,210.19 L476.1,207.38 L476.6,204.51 L477.1,201.62 L477.6,198.75 L478.1,195.97 L478.6,193.31 L479.1,190.84 L479.6,188.6 L480.1,186.65 L480.6,185.02 L481.1,183.75 L481.6,182.85 L482.1,182.34 L482.6,182.2 L483.1,182.42 L483.6,182.97 L484.1,183.82 L484.6,184.93 L485.1,186.25 L485.6,187.76 L486.1,189.41 L486.6,191.16 L487.1,193 L487.6,194.9 L488.1,196.85 L488.6,198.83 L489.1,200.83 L489.6,202.81 L490.1,204.76 L490.6,206.64 L491.1,208.4 L491.6,209.99 L492.1,211.37 L492.6,212.47 L493.1,213.26 L493.6,213.69 L494.1,213.76 L494.6,213.47 L495.1,212.85 L495.6,211.93 L496.1,210.77 L496.6,209.44 L497.1,207.99 L497.6,206.48 L498.1,204.96 L498.6,203.45 L499.1,201.99 L499.6,200.59 L500.1,199.28 L500.6,198.07 L501.1,196.99 L501.6,196.09 L502.1,195.39 L502.6,194.96 L503.1,194.84 L503.6,195.07 L504.1,195.68 L504.6,196.7 L505.1,198.12 L505.6,199.94 L506.1,202.13 L506.6,204.65 L507.1,207.45 L507.6,210.47 L508.1,213.64 L508.6,216.9 L509.1,220.19 L509.6,223.44 L510.1,226.61 L510.6,229.65 L511.1,232.51 L511.6,235.18 L512.1,237.63 L512.6,239.85 L513.1,241.83 L513.6,243.58 L514.1,245.12 L514.6,246.44 L515.1,247.57 L515.6,248.52 L516.1,249.31 L516.6,249.96 L517.1,250.5 L517.6,250.93 L518.1,251.27 L518.6,251.54 L519.1,251.75 L519.6,251.92 L520.1,252 L520.6,252 L521.1,252 L521.6,252 L522.1,252 L522.6,252 L523.1,252 L523.6,252 L524.1,252 L524.6,252" stroke="#a83363" stroke-width="1.05"/>
</g>
<line x1="512.4" y1="171.8" x2="498" y2="236" stroke="#ffc000" stroke-width="0.5" opacity="0.7"/>
<circle cx="512.4" cy="171.8" r="0.9" fill="#ffc000"/>
<line x1="467.4" y1="201.6" x2="483.8" y2="209.8" stroke="#4472c4" stroke-width="0.5" opacity="0.7"/>
<circle cx="467.4" cy="201.6" r="0.9" fill="#4472c4"/>
<line x1="515.4" y1="195.3" x2="497.5" y2="237" stroke="#92d050" stroke-width="0.5" opacity="0.7"/>
<circle cx="515.4" cy="195.3" r="0.9" fill="#92d050"/>
<line x1="454.7" y1="239.8" x2="465.8" y2="245.8" stroke="#7c44b4" stroke-width="0.5" opacity="0.7"/>
<circle cx="454.7" cy="239.8" r="0.9" fill="#7c44b4"/>
<line x1="518.4" y1="231.4" x2="507.5" y2="245" stroke="#cf2b38" stroke-width="0.5" opacity="0.7"/>
<circle cx="518.4" cy="231.4" r="0.9" fill="#cf2b38"/>
<text clip-path="url(#LcCT_P_Ca_pza)" class="an" x="517.6" y="163.7" fill="#ffc000" stroke="#ffc000" textLength="19.8" lengthAdjust="spacingAndGlyphs"><tspan>acOH</tspan></text>
<text clip-path="url(#LcCT_P_Ca_pza)" class="an" x="517.6" y="172.7" fill="#ffc000" stroke="#ffc000" textLength="17.2" lengthAdjust="spacingAndGlyphs"><tspan>530.8</tspan></text>
<text clip-path="url(#LcCT_P_Ca_pza)" class="an" x="447.3" y="187.4" fill="#4472c4" stroke="#4472c4" textLength="24.5" lengthAdjust="spacingAndGlyphs"><tspan>COOH</tspan></text>
<text clip-path="url(#LcCT_P_Ca_pza)" class="an" x="447.3" y="197.2" fill="#4472c4" stroke="#4472c4" textLength="18" lengthAdjust="spacingAndGlyphs"><tspan>532.9</tspan></text>
<text clip-path="url(#LcCT_P_Ca_pza)" class="an" x="511.1" y="190.8" fill="#92d050" stroke="#92d050" textLength="34" lengthAdjust="spacingAndGlyphs"><tspan>COO</tspan><tspan>’</tspan><tspan>/CO</tspan></text>
<text clip-path="url(#LcCT_P_Ca_pza)" class="an" x="511.1" y="199.8" fill="#92d050" stroke="#92d050" textLength="21.9" lengthAdjust="spacingAndGlyphs"><tspan>531.57</tspan></text>
<text clip-path="url(#LcCT_P_Ca_pza)" class="an" x="442.6" y="227.7" fill="#7c44b4" stroke="#7c44b4" textLength="24.7" lengthAdjust="spacingAndGlyphs"><tspan>Ar-OH</tspan></text>
<text clip-path="url(#LcCT_P_Ca_pza)" class="an" x="442.6" y="238.3" fill="#7c44b4" stroke="#7c44b4" textLength="24.7" lengthAdjust="spacingAndGlyphs"><tspan>533.56</tspan></text>
<text clip-path="url(#LcCT_P_Ca_pza)" class="an" x="522.3" y="227.7" fill="#cf2b38" stroke="#cf2b38" textLength="16.8" lengthAdjust="spacingAndGlyphs"><tspan>Ti-O</tspan></text>
<text clip-path="url(#LcCT_P_Ca_pza)" class="an" x="522.3" y="237.7" fill="#cf2b38" stroke="#cf2b38" textLength="18.1" lengthAdjust="spacingAndGlyphs"><tspan>530.3</tspan></text>
<line x1="439.6" y1="149.9" x2="439.6" y2="252.9" stroke="#151515" stroke-width="1"/>
<line x1="438.3" y1="252.4" x2="546.45" y2="252.4" stroke="#151515" stroke-width="1"/>
<path d="M439.6,252.4h-1.4M439.6,249.13h-1.4M439.6,245.86h-1.4M439.6,242.59h-1.4M439.6,239.32h-1.4M439.6,236.05h-1.4M439.6,232.78h-1.4M439.6,229.51h-1.4M439.6,226.24h-1.4M439.6,222.97h-1.4M439.6,219.7h-1.4M439.6,216.43h-1.4M439.6,213.16h-1.4M439.6,209.89h-1.4M439.6,206.62h-1.4M439.6,203.35h-1.4M439.6,200.08h-1.4M439.6,196.81h-1.4M439.6,193.54h-1.4M439.6,190.27h-1.4M439.6,187h-1.4M439.6,183.73h-1.4M439.6,180.46h-1.4M439.6,177.19h-1.4M439.6,173.92h-1.4M439.6,170.65h-1.4M439.6,167.38h-1.4M439.6,164.11h-1.4M439.6,160.84h-1.4M439.6,157.57h-1.4M439.6,154.3h-1.4M439.6,151.03h-1.4" stroke="#222" stroke-width="0.65" fill="none"/>
<text class="yl" x="437" y="254.3" text-anchor="end" textLength="1.9" lengthAdjust="spacingAndGlyphs">0</text>
<text class="yl" x="426.48" y="237.95" textLength="9.12" lengthAdjust="spacingAndGlyphs">5x10</text>
<text class="yl" x="435.65" y="235.75" font-size="3.4">2</text>
<text class="yl" x="424.2" y="221.6" textLength="11.4" lengthAdjust="spacingAndGlyphs">10x10</text>
<text class="yl" x="435.65" y="219.4" font-size="3.4">2</text>
<text class="yl" x="424.2" y="205.25" textLength="11.4" lengthAdjust="spacingAndGlyphs">15x10</text>
<text class="yl" x="435.65" y="203.05" font-size="3.4">2</text>
<text class="yl" x="424.2" y="188.9" textLength="11.4" lengthAdjust="spacingAndGlyphs">20x10</text>
<text class="yl" x="435.65" y="186.7" font-size="3.4">2</text>
<text class="yl" x="424.2" y="172.55" textLength="11.4" lengthAdjust="spacingAndGlyphs">25x10</text>
<text class="yl" x="435.65" y="170.35" font-size="3.4">2</text>
<text class="yl" x="424.2" y="156.2" textLength="11.4" lengthAdjust="spacingAndGlyphs">30x10</text>
<text class="yl" x="435.65" y="154" font-size="3.4">2</text>
<text class="yl" transform="translate(422.7,200.6) rotate(-90)" text-anchor="middle" font-size="4.2">C P S</text>
<path d="M448.9,252.4v3.4M457.71,252.4v2.0M466.52,252.4v2.0M475.33,252.4v3.4M484.14,252.4v2.0M492.95,252.4v2.0M501.76,252.4v3.4M510.57,252.4v2.0M519.38,252.4v2.0M528.19,252.4v3.4M537,252.4v2.0M439.6,252.4v1.9M546,252.4v1.9" stroke="#222" stroke-width="0.65" fill="none"/>
<text class="tk" x="448.9" y="261.8" text-anchor="middle" textLength="6.2" lengthAdjust="spacingAndGlyphs">537</text>
<text class="tk" x="475.33" y="261.8" text-anchor="middle" textLength="6.2" lengthAdjust="spacingAndGlyphs">534</text>
<text class="tk" x="501.76" y="261.8" text-anchor="middle" textLength="6.2" lengthAdjust="spacingAndGlyphs">531</text>
<text class="tk" x="528.19" y="261.8" text-anchor="middle" textLength="6.2" lengthAdjust="spacingAndGlyphs">528</text>
<text class="bx" x="493.24" y="268.2" text-anchor="middle" textLength="34.09" lengthAdjust="spacingAndGlyphs">Binding Energy (eV)</text>
</svg></body></html>
